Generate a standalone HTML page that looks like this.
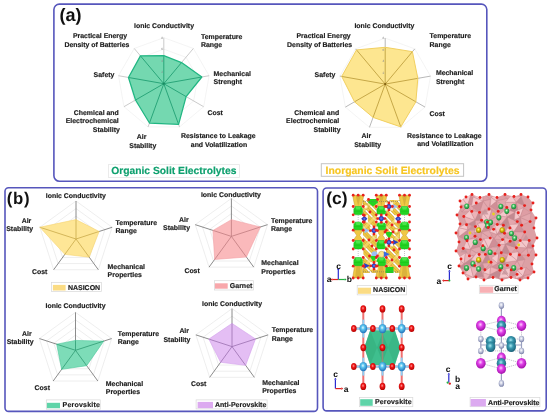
<!DOCTYPE html><html><head><meta charset="utf-8"><style>html,body{margin:0;padding:0;background:#fff;width:550px;height:415px;overflow:hidden}svg{display:block}</style></head><body>
<svg width="550" height="415" viewBox="0 0 550 415" font-family="'Liberation Sans', Arial, sans-serif" text-rendering="geometricPrecision">
<rect width="550" height="415" fill="#fff"/>
<rect x="53.9" y="4.1" width="432.9" height="177.2" rx="5.5" fill="none" stroke="#5656bc" stroke-width="1.6"/>
<rect x="5" y="187.7" width="312.5" height="223.7" rx="3.6" fill="none" stroke="#5656bc" stroke-width="1.6"/>
<rect x="323.1" y="188" width="223.1" height="222.9" rx="3.6" fill="none" stroke="#5656bc" stroke-width="1.6"/>
<text x="59.6" y="21.0" font-size="18" font-weight="bold" fill="#111">(a)</text>
<text x="6.8" y="204.4" font-size="16.8" font-weight="bold" fill="#111" letter-spacing="0.7">(b)</text>
<text x="326.2" y="203.6" font-size="17.4" font-weight="bold" fill="#111">(c)</text>
<polygon points="163.80,72.20 171.19,74.89 175.13,81.70 173.76,89.45 167.73,94.51 159.87,94.51 153.84,89.45 152.47,81.70 156.41,74.89" fill="none" stroke="#ececec" stroke-width="0.6"/>
<polygon points="163.80,60.70 178.58,66.08 186.45,79.71 183.72,95.20 171.67,105.31 155.93,105.31 143.88,95.20 141.15,79.71 149.02,66.08" fill="none" stroke="#ececec" stroke-width="0.6"/>
<polygon points="163.80,49.20 185.98,57.27 197.78,77.71 193.68,100.95 175.60,116.12 152.00,116.12 133.92,100.95 129.82,77.71 141.62,57.27" fill="none" stroke="#ececec" stroke-width="0.6"/>
<polygon points="163.80,37.70 193.37,48.46 209.10,75.71 203.64,106.70 179.53,126.93 148.07,126.93 123.96,106.70 118.50,75.71 134.23,48.46" fill="none" stroke="#ececec" stroke-width="0.6"/>
<line x1="163.80" y1="83.70" x2="163.80" y2="37.70" stroke="#b4b4b4" stroke-width="0.7"/>
<line x1="163.80" y1="83.70" x2="193.37" y2="48.46" stroke="#b4b4b4" stroke-width="0.7"/>
<line x1="163.80" y1="83.70" x2="209.10" y2="75.71" stroke="#b4b4b4" stroke-width="0.7"/>
<line x1="163.80" y1="83.70" x2="203.64" y2="106.70" stroke="#b4b4b4" stroke-width="0.7"/>
<line x1="163.80" y1="83.70" x2="179.53" y2="126.93" stroke="#b4b4b4" stroke-width="0.7"/>
<line x1="163.80" y1="83.70" x2="148.07" y2="126.93" stroke="#b4b4b4" stroke-width="0.7"/>
<line x1="163.80" y1="83.70" x2="123.96" y2="106.70" stroke="#b4b4b4" stroke-width="0.7"/>
<line x1="163.80" y1="83.70" x2="118.50" y2="75.71" stroke="#b4b4b4" stroke-width="0.7"/>
<line x1="163.80" y1="83.70" x2="134.23" y2="48.46" stroke="#b4b4b4" stroke-width="0.7"/>
<polygon points="163.80,55.64 181.54,62.56 201.85,76.99 186.11,96.58 178.59,124.33 149.48,123.04 135.52,100.03 128.47,77.47 140.44,55.86" fill="#74d8b0" fill-opacity="1" stroke="none"/>
<line x1="163.80" y1="83.70" x2="163.80" y2="55.64" stroke="#2aa67a" stroke-width="1.0"/>
<line x1="163.80" y1="83.70" x2="181.54" y2="62.56" stroke="#2aa67a" stroke-width="1.0"/>
<line x1="163.80" y1="83.70" x2="201.85" y2="76.99" stroke="#2aa67a" stroke-width="1.0"/>
<line x1="163.80" y1="83.70" x2="186.11" y2="96.58" stroke="#2aa67a" stroke-width="1.0"/>
<line x1="163.80" y1="83.70" x2="178.59" y2="124.33" stroke="#2aa67a" stroke-width="1.0"/>
<line x1="163.80" y1="83.70" x2="149.48" y2="123.04" stroke="#2aa67a" stroke-width="1.0"/>
<line x1="163.80" y1="83.70" x2="135.52" y2="100.03" stroke="#2aa67a" stroke-width="1.0"/>
<line x1="163.80" y1="83.70" x2="128.47" y2="77.47" stroke="#2aa67a" stroke-width="1.0"/>
<line x1="163.80" y1="83.70" x2="140.44" y2="55.86" stroke="#2aa67a" stroke-width="1.0"/>
<polygon points="163.80,55.64 181.54,62.56 201.85,76.99 186.11,96.58 178.59,124.33 149.48,123.04 135.52,100.03 128.47,77.47 140.44,55.86" fill="none" stroke="#20b682" stroke-width="1.25" stroke-linejoin="round"/>
<circle cx="163.8" cy="83.7" r="1.1" fill="#1a8a60"/>
<polygon points="385.20,72.60 392.59,75.29 396.53,82.10 395.16,89.85 389.13,94.91 381.27,94.91 375.24,89.85 373.87,82.10 377.81,75.29" fill="none" stroke="#ececec" stroke-width="0.6"/>
<polygon points="385.20,61.10 399.98,66.48 407.85,80.11 405.12,95.60 393.07,105.71 377.33,105.71 365.28,95.60 362.55,80.11 370.42,66.48" fill="none" stroke="#ececec" stroke-width="0.6"/>
<polygon points="385.20,49.60 407.38,57.67 419.18,78.11 415.08,101.35 397.00,116.52 373.40,116.52 355.32,101.35 351.22,78.11 363.02,57.67" fill="none" stroke="#ececec" stroke-width="0.6"/>
<polygon points="385.20,38.10 414.77,48.86 430.50,76.11 425.04,107.10 400.93,127.33 369.47,127.33 345.36,107.10 339.90,76.11 355.63,48.86" fill="none" stroke="#ececec" stroke-width="0.6"/>
<line x1="385.20" y1="84.10" x2="385.20" y2="38.10" stroke="#9a9a9a" stroke-width="0.7"/>
<line x1="385.20" y1="84.10" x2="414.77" y2="48.86" stroke="#9a9a9a" stroke-width="0.7"/>
<line x1="385.20" y1="84.10" x2="430.50" y2="76.11" stroke="#9a9a9a" stroke-width="0.7"/>
<line x1="385.20" y1="84.10" x2="425.04" y2="107.10" stroke="#9a9a9a" stroke-width="0.7"/>
<line x1="385.20" y1="84.10" x2="400.93" y2="127.33" stroke="#9a9a9a" stroke-width="0.7"/>
<line x1="385.20" y1="84.10" x2="369.47" y2="127.33" stroke="#9a9a9a" stroke-width="0.7"/>
<line x1="385.20" y1="84.10" x2="345.36" y2="107.10" stroke="#9a9a9a" stroke-width="0.7"/>
<line x1="385.20" y1="84.10" x2="339.90" y2="76.11" stroke="#9a9a9a" stroke-width="0.7"/>
<line x1="385.20" y1="84.10" x2="355.63" y2="48.86" stroke="#9a9a9a" stroke-width="0.7"/>
<polygon points="385.20,47.30 412.40,51.68 417.82,78.35 415.87,101.81 400.78,126.89 373.09,117.38 354.53,101.81 341.71,76.43 356.52,49.92" fill="#fde690" fill-opacity="1" stroke="none"/>
<line x1="385.20" y1="84.10" x2="385.20" y2="47.30" stroke="#bfa040" stroke-width="0.9"/>
<line x1="385.20" y1="84.10" x2="412.40" y2="51.68" stroke="#bfa040" stroke-width="0.9"/>
<line x1="385.20" y1="84.10" x2="417.82" y2="78.35" stroke="#bfa040" stroke-width="0.9"/>
<line x1="385.20" y1="84.10" x2="415.87" y2="101.81" stroke="#bfa040" stroke-width="0.9"/>
<line x1="385.20" y1="84.10" x2="400.78" y2="126.89" stroke="#bfa040" stroke-width="0.9"/>
<line x1="385.20" y1="84.10" x2="373.09" y2="117.38" stroke="#bfa040" stroke-width="0.9"/>
<line x1="385.20" y1="84.10" x2="354.53" y2="101.81" stroke="#bfa040" stroke-width="0.9"/>
<line x1="385.20" y1="84.10" x2="341.71" y2="76.43" stroke="#bfa040" stroke-width="0.9"/>
<line x1="385.20" y1="84.10" x2="356.52" y2="49.92" stroke="#bfa040" stroke-width="0.9"/>
<polygon points="385.20,47.30 412.40,51.68 417.82,78.35 415.87,101.81 400.78,126.89 373.09,117.38 354.53,101.81 341.71,76.43 356.52,49.92" fill="none" stroke="#f2d060" stroke-width="1.0" stroke-linejoin="round"/>
<circle cx="385.2" cy="84.1" r="1.1" fill="#806010"/>
<text x="163.0" y="73.4" font-size="3.2" fill="#8a8a8a" text-anchor="end">2</text>
<text x="163.0" y="61.9" font-size="3.2" fill="#8a8a8a" text-anchor="end">4</text>
<text x="163.0" y="50.4" font-size="3.2" fill="#8a8a8a" text-anchor="end">6</text>
<text x="163.0" y="38.9" font-size="3.2" fill="#8a8a8a" text-anchor="end">8</text>
<text x="384.4" y="73.8" font-size="3.2" fill="#8a8a8a" text-anchor="end">2</text>
<text x="384.4" y="62.3" font-size="3.2" fill="#8a8a8a" text-anchor="end">4</text>
<text x="384.4" y="50.8" font-size="3.2" fill="#8a8a8a" text-anchor="end">6</text>
<text x="384.4" y="39.3" font-size="3.2" fill="#8a8a8a" text-anchor="end">8</text>
<text x="164.00" y="27.69" text-anchor="middle" font-size="6.93" font-weight="bold" fill="#1a1a1a" stroke="#1a1a1a" stroke-width="0.16" >Ionic Conductivity</text>
<text x="100.00" y="38.49" text-anchor="middle" font-size="6.93" font-weight="bold" fill="#1a1a1a" stroke="#1a1a1a" stroke-width="0.16" >Practical Energy</text>
<text x="96.90" y="46.99" text-anchor="middle" font-size="6.93" font-weight="bold" fill="#1a1a1a" stroke="#1a1a1a" stroke-width="0.16" >Density of Batteries</text>
<text x="201.00" y="38.99" text-anchor="start" font-size="6.93" font-weight="bold" fill="#1a1a1a" stroke="#1a1a1a" stroke-width="0.16" >Temperature</text>
<text x="201.00" y="47.49" text-anchor="start" font-size="6.93" font-weight="bold" fill="#1a1a1a" stroke="#1a1a1a" stroke-width="0.16" >Range</text>
<text x="213.60" y="75.79" text-anchor="start" font-size="6.93" font-weight="bold" fill="#1a1a1a" stroke="#1a1a1a" stroke-width="0.16" >Mechanical</text>
<text x="213.60" y="84.09" text-anchor="start" font-size="6.93" font-weight="bold" fill="#1a1a1a" stroke="#1a1a1a" stroke-width="0.16" >Strenght</text>
<text x="207.50" y="115.19" text-anchor="start" font-size="6.93" font-weight="bold" fill="#1a1a1a" stroke="#1a1a1a" stroke-width="0.16" >Cost</text>
<text x="218.30" y="137.99" text-anchor="middle" font-size="6.93" font-weight="bold" fill="#1a1a1a" stroke="#1a1a1a" stroke-width="0.16" >Resistance to Leakage</text>
<text x="219.00" y="146.59" text-anchor="middle" font-size="6.93" font-weight="bold" fill="#1a1a1a" stroke="#1a1a1a" stroke-width="0.16" >and Volatilization</text>
<text x="141.60" y="139.09" text-anchor="middle" font-size="6.93" font-weight="bold" fill="#1a1a1a" stroke="#1a1a1a" stroke-width="0.16" >Air</text>
<text x="142.80" y="147.59" text-anchor="middle" font-size="6.93" font-weight="bold" fill="#1a1a1a" stroke="#1a1a1a" stroke-width="0.16" >Stability</text>
<text x="118.80" y="114.79" text-anchor="end" font-size="6.93" font-weight="bold" fill="#1a1a1a" stroke="#1a1a1a" stroke-width="0.16" >Chemical and</text>
<text x="118.80" y="123.49" text-anchor="end" font-size="6.93" font-weight="bold" fill="#1a1a1a" stroke="#1a1a1a" stroke-width="0.16" >Electrochemical</text>
<text x="119.80" y="132.39" text-anchor="end" font-size="6.93" font-weight="bold" fill="#1a1a1a" stroke="#1a1a1a" stroke-width="0.16" >Stability</text>
<text x="114.40" y="76.99" text-anchor="end" font-size="6.93" font-weight="bold" fill="#1a1a1a" stroke="#1a1a1a" stroke-width="0.16" >Safety</text>
<text x="384.40" y="27.69" text-anchor="middle" font-size="6.93" font-weight="bold" fill="#1a1a1a" stroke="#1a1a1a" stroke-width="0.16" >Ionic Conductivity</text>
<text x="323.60" y="38.19" text-anchor="middle" font-size="6.93" font-weight="bold" fill="#1a1a1a" stroke="#1a1a1a" stroke-width="0.16" >Practical Energy</text>
<text x="319.60" y="46.59" text-anchor="middle" font-size="6.93" font-weight="bold" fill="#1a1a1a" stroke="#1a1a1a" stroke-width="0.16" >Density of Batteries</text>
<text x="429.60" y="38.39" text-anchor="start" font-size="6.93" font-weight="bold" fill="#1a1a1a" stroke="#1a1a1a" stroke-width="0.16" >Temperature</text>
<text x="429.60" y="46.89" text-anchor="start" font-size="6.93" font-weight="bold" fill="#1a1a1a" stroke="#1a1a1a" stroke-width="0.16" >Range</text>
<text x="435.90" y="75.39" text-anchor="start" font-size="6.93" font-weight="bold" fill="#1a1a1a" stroke="#1a1a1a" stroke-width="0.16" >Mechanical</text>
<text x="435.90" y="83.89" text-anchor="start" font-size="6.93" font-weight="bold" fill="#1a1a1a" stroke="#1a1a1a" stroke-width="0.16" >Strenght</text>
<text x="429.50" y="115.99" text-anchor="start" font-size="6.93" font-weight="bold" fill="#1a1a1a" stroke="#1a1a1a" stroke-width="0.16" >Cost</text>
<text x="444.30" y="137.59" text-anchor="middle" font-size="6.93" font-weight="bold" fill="#1a1a1a" stroke="#1a1a1a" stroke-width="0.16" >Resistance to Leakage</text>
<text x="445.40" y="146.39" text-anchor="middle" font-size="6.93" font-weight="bold" fill="#1a1a1a" stroke="#1a1a1a" stroke-width="0.16" >and Volatilization</text>
<text x="366.40" y="138.49" text-anchor="middle" font-size="6.93" font-weight="bold" fill="#1a1a1a" stroke="#1a1a1a" stroke-width="0.16" >Air</text>
<text x="367.70" y="146.89" text-anchor="middle" font-size="6.93" font-weight="bold" fill="#1a1a1a" stroke="#1a1a1a" stroke-width="0.16" >Stability</text>
<text x="339.20" y="114.89" text-anchor="end" font-size="6.93" font-weight="bold" fill="#1a1a1a" stroke="#1a1a1a" stroke-width="0.16" >Chemical and</text>
<text x="339.20" y="123.29" text-anchor="end" font-size="6.93" font-weight="bold" fill="#1a1a1a" stroke="#1a1a1a" stroke-width="0.16" >Electrochemical</text>
<text x="340.50" y="132.49" text-anchor="end" font-size="6.93" font-weight="bold" fill="#1a1a1a" stroke="#1a1a1a" stroke-width="0.16" >Stability</text>
<text x="335.40" y="76.59" text-anchor="end" font-size="6.93" font-weight="bold" fill="#1a1a1a" stroke="#1a1a1a" stroke-width="0.16" >Safety</text>
<rect x="108.5" y="164.6" width="131" height="12.8" fill="#fff" stroke="#e6e6e6" stroke-width="0.8"/>
<text x="173.80" y="174.22" text-anchor="middle" font-size="10.3" font-weight="bold" fill="#0ea06e" stroke="#0ea06e" stroke-width="0.16" >Organic Solit Electrolytes</text>
<rect x="321.3" y="163.7" width="142.3" height="12.6" fill="#fff" stroke="#c4c4c4" stroke-width="1"/>
<text x="392.60" y="173.79" text-anchor="middle" font-size="10.4" font-weight="bold" fill="#f6c520" stroke="#f6c520" stroke-width="0.16" >Inorganic Solit Electrolytes</text>
<polygon points="76.00,231.40 83.23,236.65 80.47,245.15 71.53,245.15 68.77,236.65" fill="none" stroke="#e2e2e2" stroke-width="0.6"/>
<polygon points="76.00,223.80 90.46,234.30 84.93,251.30 67.07,251.30 61.54,234.30" fill="none" stroke="#e2e2e2" stroke-width="0.6"/>
<polygon points="76.00,216.20 97.68,231.95 89.40,257.45 62.60,257.45 54.32,231.95" fill="none" stroke="#e2e2e2" stroke-width="0.6"/>
<polygon points="76.00,208.60 104.91,229.61 93.87,263.59 58.13,263.59 47.09,229.61" fill="none" stroke="#e2e2e2" stroke-width="0.6"/>
<polygon points="76.00,201.00 112.14,227.26 98.34,269.74 53.66,269.74 39.86,227.26" fill="none" stroke="#e2e2e2" stroke-width="0.6"/>
<line x1="76.00" y1="239.00" x2="76.00" y2="201.00" stroke="#6e6e6e" stroke-width="0.8"/>
<line x1="76.00" y1="239.00" x2="112.14" y2="227.26" stroke="#6e6e6e" stroke-width="0.8"/>
<line x1="76.00" y1="239.00" x2="98.34" y2="269.74" stroke="#6e6e6e" stroke-width="0.8"/>
<line x1="76.00" y1="239.00" x2="53.66" y2="269.74" stroke="#6e6e6e" stroke-width="0.8"/>
<line x1="76.00" y1="239.00" x2="39.86" y2="227.26" stroke="#6e6e6e" stroke-width="0.8"/>
<polygon points="76.00,219.62 99.13,231.48 89.18,257.14 64.83,254.37 39.86,227.26" fill="#fee696" fill-opacity="1" stroke="none"/>
<line x1="76.00" y1="239.00" x2="76.00" y2="219.62" stroke="#c9a94a" stroke-width="0.8"/>
<line x1="76.00" y1="239.00" x2="99.13" y2="231.48" stroke="#c9a94a" stroke-width="0.8"/>
<line x1="76.00" y1="239.00" x2="89.18" y2="257.14" stroke="#c9a94a" stroke-width="0.8"/>
<line x1="76.00" y1="239.00" x2="64.83" y2="254.37" stroke="#c9a94a" stroke-width="0.8"/>
<line x1="76.00" y1="239.00" x2="39.86" y2="227.26" stroke="#c9a94a" stroke-width="0.8"/>
<polygon points="76.00,219.62 99.13,231.48 89.18,257.14 64.83,254.37 39.86,227.26" fill="none" stroke="#f6d470" stroke-width="0.6" stroke-linejoin="round"/>
<polygon points="231.40,228.80 238.63,234.05 235.87,242.55 226.93,242.55 224.17,234.05" fill="none" stroke="#e2e2e2" stroke-width="0.6"/>
<polygon points="231.40,221.20 245.86,231.70 240.33,248.70 222.47,248.70 216.94,231.70" fill="none" stroke="#e2e2e2" stroke-width="0.6"/>
<polygon points="231.40,213.60 253.08,229.35 244.80,254.85 218.00,254.85 209.72,229.35" fill="none" stroke="#e2e2e2" stroke-width="0.6"/>
<polygon points="231.40,206.00 260.31,227.01 249.27,260.99 213.53,260.99 202.49,227.01" fill="none" stroke="#e2e2e2" stroke-width="0.6"/>
<polygon points="231.40,198.40 267.54,224.66 253.74,267.14 209.06,267.14 195.26,224.66" fill="none" stroke="#e2e2e2" stroke-width="0.6"/>
<line x1="231.40" y1="236.40" x2="231.40" y2="198.40" stroke="#6e6e6e" stroke-width="0.8"/>
<line x1="231.40" y1="236.40" x2="267.54" y2="224.66" stroke="#6e6e6e" stroke-width="0.8"/>
<line x1="231.40" y1="236.40" x2="253.74" y2="267.14" stroke="#6e6e6e" stroke-width="0.8"/>
<line x1="231.40" y1="236.40" x2="209.06" y2="267.14" stroke="#6e6e6e" stroke-width="0.8"/>
<line x1="231.40" y1="236.40" x2="195.26" y2="224.66" stroke="#6e6e6e" stroke-width="0.8"/>
<polygon points="231.40,219.68 260.31,227.01 246.37,257.00 214.65,259.46 212.97,230.41" fill="#fab9bb" fill-opacity="1" stroke="none"/>
<line x1="231.40" y1="236.40" x2="231.40" y2="219.68" stroke="#c07c80" stroke-width="0.8"/>
<line x1="231.40" y1="236.40" x2="260.31" y2="227.01" stroke="#c07c80" stroke-width="0.8"/>
<line x1="231.40" y1="236.40" x2="246.37" y2="257.00" stroke="#c07c80" stroke-width="0.8"/>
<line x1="231.40" y1="236.40" x2="214.65" y2="259.46" stroke="#c07c80" stroke-width="0.8"/>
<line x1="231.40" y1="236.40" x2="212.97" y2="230.41" stroke="#c07c80" stroke-width="0.8"/>
<polygon points="231.40,219.68 260.31,227.01 246.37,257.00 214.65,259.46 212.97,230.41" fill="none" stroke="#f3a0a4" stroke-width="0.6" stroke-linejoin="round"/>
<polygon points="75.50,342.70 82.73,347.95 79.97,356.45 71.03,356.45 68.27,347.95" fill="none" stroke="#e2e2e2" stroke-width="0.6"/>
<polygon points="75.50,335.10 89.96,345.60 84.43,362.60 66.57,362.60 61.04,345.60" fill="none" stroke="#e2e2e2" stroke-width="0.6"/>
<polygon points="75.50,327.50 97.18,343.25 88.90,368.75 62.10,368.75 53.82,343.25" fill="none" stroke="#e2e2e2" stroke-width="0.6"/>
<polygon points="75.50,319.90 104.41,340.91 93.37,374.89 57.63,374.89 46.59,340.91" fill="none" stroke="#e2e2e2" stroke-width="0.6"/>
<polygon points="75.50,312.30 111.64,338.56 97.84,381.04 53.16,381.04 39.36,338.56" fill="none" stroke="#e2e2e2" stroke-width="0.6"/>
<line x1="75.50" y1="350.30" x2="75.50" y2="312.30" stroke="#6e6e6e" stroke-width="0.8"/>
<line x1="75.50" y1="350.30" x2="111.64" y2="338.56" stroke="#6e6e6e" stroke-width="0.8"/>
<line x1="75.50" y1="350.30" x2="97.84" y2="381.04" stroke="#6e6e6e" stroke-width="0.8"/>
<line x1="75.50" y1="350.30" x2="53.16" y2="381.04" stroke="#6e6e6e" stroke-width="0.8"/>
<line x1="75.50" y1="350.30" x2="39.36" y2="338.56" stroke="#6e6e6e" stroke-width="0.8"/>
<polygon points="75.50,340.42 103.69,341.14 86.67,365.67 61.65,369.36 56.71,344.19" fill="#7ddcb8" fill-opacity="1" stroke="none"/>
<line x1="75.50" y1="350.30" x2="75.50" y2="340.42" stroke="#2f9a72" stroke-width="0.8"/>
<line x1="75.50" y1="350.30" x2="103.69" y2="341.14" stroke="#2f9a72" stroke-width="0.8"/>
<line x1="75.50" y1="350.30" x2="86.67" y2="365.67" stroke="#2f9a72" stroke-width="0.8"/>
<line x1="75.50" y1="350.30" x2="61.65" y2="369.36" stroke="#2f9a72" stroke-width="0.8"/>
<line x1="75.50" y1="350.30" x2="56.71" y2="344.19" stroke="#2f9a72" stroke-width="0.8"/>
<polygon points="75.50,340.42 103.69,341.14 86.67,365.67 61.65,369.36 56.71,344.19" fill="none" stroke="#4cc89a" stroke-width="0.6" stroke-linejoin="round"/>
<polygon points="232.00,339.00 239.23,344.25 236.47,352.75 227.53,352.75 224.77,344.25" fill="none" stroke="#e2e2e2" stroke-width="0.6"/>
<polygon points="232.00,331.40 246.46,341.90 240.93,358.90 223.07,358.90 217.54,341.90" fill="none" stroke="#e2e2e2" stroke-width="0.6"/>
<polygon points="232.00,323.80 253.68,339.55 245.40,365.05 218.60,365.05 210.32,339.55" fill="none" stroke="#e2e2e2" stroke-width="0.6"/>
<polygon points="232.00,316.20 260.91,337.21 249.87,371.19 214.13,371.19 203.09,337.21" fill="none" stroke="#e2e2e2" stroke-width="0.6"/>
<polygon points="232.00,308.60 268.14,334.86 254.34,377.34 209.66,377.34 195.86,334.86" fill="none" stroke="#e2e2e2" stroke-width="0.6"/>
<line x1="232.00" y1="346.60" x2="232.00" y2="308.60" stroke="#6e6e6e" stroke-width="0.8"/>
<line x1="232.00" y1="346.60" x2="268.14" y2="334.86" stroke="#6e6e6e" stroke-width="0.8"/>
<line x1="232.00" y1="346.60" x2="254.34" y2="377.34" stroke="#6e6e6e" stroke-width="0.8"/>
<line x1="232.00" y1="346.60" x2="209.66" y2="377.34" stroke="#6e6e6e" stroke-width="0.8"/>
<line x1="232.00" y1="346.60" x2="195.86" y2="334.86" stroke="#6e6e6e" stroke-width="0.8"/>
<polygon points="232.00,323.42 255.49,338.97 245.62,365.35 220.61,362.28 208.87,339.08" fill="#e4bef4" fill-opacity="1" stroke="none"/>
<line x1="232.00" y1="346.60" x2="232.00" y2="323.42" stroke="#9a70b0" stroke-width="0.8"/>
<line x1="232.00" y1="346.60" x2="255.49" y2="338.97" stroke="#9a70b0" stroke-width="0.8"/>
<line x1="232.00" y1="346.60" x2="245.62" y2="365.35" stroke="#9a70b0" stroke-width="0.8"/>
<line x1="232.00" y1="346.60" x2="220.61" y2="362.28" stroke="#9a70b0" stroke-width="0.8"/>
<line x1="232.00" y1="346.60" x2="208.87" y2="339.08" stroke="#9a70b0" stroke-width="0.8"/>
<polygon points="232.00,323.42 255.49,338.97 245.62,365.35 220.61,362.28 208.87,339.08" fill="none" stroke="#d4a0ec" stroke-width="0.6" stroke-linejoin="round"/>
<text x="75.80" y="198.09" text-anchor="middle" font-size="6.93" font-weight="bold" fill="#1a1a1a" stroke="#1a1a1a" stroke-width="0.16" >Ionic Conductivity</text>
<text x="31.30" y="222.59" text-anchor="end" font-size="6.93" font-weight="bold" fill="#1a1a1a" stroke="#1a1a1a" stroke-width="0.16" >Air</text>
<text x="33.20" y="230.59" text-anchor="end" font-size="6.93" font-weight="bold" fill="#1a1a1a" stroke="#1a1a1a" stroke-width="0.16" >Stability</text>
<text x="115.60" y="225.09" text-anchor="start" font-size="6.93" font-weight="bold" fill="#1a1a1a" stroke="#1a1a1a" stroke-width="0.16" >Temperature</text>
<text x="115.60" y="233.39" text-anchor="start" font-size="6.93" font-weight="bold" fill="#1a1a1a" stroke="#1a1a1a" stroke-width="0.16" >Range</text>
<text x="107.60" y="268.89" text-anchor="start" font-size="6.93" font-weight="bold" fill="#1a1a1a" stroke="#1a1a1a" stroke-width="0.16" >Mechanical</text>
<text x="107.60" y="277.19" text-anchor="start" font-size="6.93" font-weight="bold" fill="#1a1a1a" stroke="#1a1a1a" stroke-width="0.16" >Properties</text>
<text x="32.00" y="273.99" text-anchor="start" font-size="6.93" font-weight="bold" fill="#1a1a1a" stroke="#1a1a1a" stroke-width="0.16" >Cost</text>
<text x="230.90" y="196.59" text-anchor="middle" font-size="6.93" font-weight="bold" fill="#1a1a1a" stroke="#1a1a1a" stroke-width="0.16" >Ionic Conductivity</text>
<text x="188.70" y="222.49" text-anchor="end" font-size="6.93" font-weight="bold" fill="#1a1a1a" stroke="#1a1a1a" stroke-width="0.16" >Air</text>
<text x="190.00" y="230.29" text-anchor="end" font-size="6.93" font-weight="bold" fill="#1a1a1a" stroke="#1a1a1a" stroke-width="0.16" >Stability</text>
<text x="271.00" y="223.19" text-anchor="start" font-size="6.93" font-weight="bold" fill="#1a1a1a" stroke="#1a1a1a" stroke-width="0.16" >Temperature</text>
<text x="271.00" y="231.49" text-anchor="start" font-size="6.93" font-weight="bold" fill="#1a1a1a" stroke="#1a1a1a" stroke-width="0.16" >Range</text>
<text x="261.30" y="265.29" text-anchor="start" font-size="6.93" font-weight="bold" fill="#1a1a1a" stroke="#1a1a1a" stroke-width="0.16" >Mechanical</text>
<text x="261.30" y="273.59" text-anchor="start" font-size="6.93" font-weight="bold" fill="#1a1a1a" stroke="#1a1a1a" stroke-width="0.16" >Properties</text>
<text x="184.40" y="272.59" text-anchor="start" font-size="6.93" font-weight="bold" fill="#1a1a1a" stroke="#1a1a1a" stroke-width="0.16" >Cost</text>
<text x="75.50" y="307.99" text-anchor="middle" font-size="6.93" font-weight="bold" fill="#1a1a1a" stroke="#1a1a1a" stroke-width="0.16" >Ionic Conductivity</text>
<text x="31.60" y="335.99" text-anchor="end" font-size="6.93" font-weight="bold" fill="#1a1a1a" stroke="#1a1a1a" stroke-width="0.16" >Air</text>
<text x="33.60" y="344.39" text-anchor="end" font-size="6.93" font-weight="bold" fill="#1a1a1a" stroke="#1a1a1a" stroke-width="0.16" >Stability</text>
<text x="117.70" y="335.59" text-anchor="start" font-size="6.93" font-weight="bold" fill="#1a1a1a" stroke="#1a1a1a" stroke-width="0.16" >Temperature</text>
<text x="117.70" y="343.59" text-anchor="start" font-size="6.93" font-weight="bold" fill="#1a1a1a" stroke="#1a1a1a" stroke-width="0.16" >Range</text>
<text x="105.80" y="386.29" text-anchor="start" font-size="6.93" font-weight="bold" fill="#1a1a1a" stroke="#1a1a1a" stroke-width="0.16" >Mechanical</text>
<text x="105.80" y="394.49" text-anchor="start" font-size="6.93" font-weight="bold" fill="#1a1a1a" stroke="#1a1a1a" stroke-width="0.16" >Properties</text>
<text x="34.60" y="389.79" text-anchor="start" font-size="6.93" font-weight="bold" fill="#1a1a1a" stroke="#1a1a1a" stroke-width="0.16" >Cost</text>
<text x="232.00" y="305.99" text-anchor="middle" font-size="6.93" font-weight="bold" fill="#1a1a1a" stroke="#1a1a1a" stroke-width="0.16" >Ionic Conductivity</text>
<text x="189.00" y="333.39" text-anchor="end" font-size="6.93" font-weight="bold" fill="#1a1a1a" stroke="#1a1a1a" stroke-width="0.16" >Air</text>
<text x="190.40" y="341.59" text-anchor="end" font-size="6.93" font-weight="bold" fill="#1a1a1a" stroke="#1a1a1a" stroke-width="0.16" >Stability</text>
<text x="271.80" y="332.29" text-anchor="start" font-size="6.93" font-weight="bold" fill="#1a1a1a" stroke="#1a1a1a" stroke-width="0.16" >Temperature</text>
<text x="271.80" y="340.79" text-anchor="start" font-size="6.93" font-weight="bold" fill="#1a1a1a" stroke="#1a1a1a" stroke-width="0.16" >Range</text>
<text x="262.20" y="385.09" text-anchor="start" font-size="6.93" font-weight="bold" fill="#1a1a1a" stroke="#1a1a1a" stroke-width="0.16" >Mechanical</text>
<text x="262.20" y="393.39" text-anchor="start" font-size="6.93" font-weight="bold" fill="#1a1a1a" stroke="#1a1a1a" stroke-width="0.16" >Properties</text>
<text x="191.00" y="386.19" text-anchor="start" font-size="6.93" font-weight="bold" fill="#1a1a1a" stroke="#1a1a1a" stroke-width="0.16" >Cost</text>
<rect x="51.6" y="282.4" width="50.00" height="9.10" fill="#fff" stroke="#d8d8d8" stroke-width="0.7"/>
<rect x="52.9" y="284.9" width="12.70" height="5.60" fill="#fbdc84"/>
<text x="67.90" y="289.64" text-anchor="start" font-size="7" font-weight="bold" fill="#1a1a1a" stroke="#1a1a1a" stroke-width="0.16" >NASICON</text>
<rect x="214.5" y="280.7" width="39.10" height="9.30" fill="#fff" stroke="#d8d8d8" stroke-width="0.7"/>
<rect x="214.9" y="283.3" width="12.80" height="5.40" fill="#f8a7ab"/>
<text x="229.80" y="288.04" text-anchor="start" font-size="7" font-weight="bold" fill="#1a1a1a" stroke="#1a1a1a" stroke-width="0.16" >Garnet</text>
<rect x="46.3" y="399.9" width="53.90" height="9.30" fill="#fff" stroke="#d8d8d8" stroke-width="0.7"/>
<rect x="46.9" y="402.8" width="13.10" height="5.40" fill="#5fd4a8"/>
<text x="62.60" y="407.24" text-anchor="start" font-size="7" font-weight="bold" fill="#1a1a1a" stroke="#1a1a1a" stroke-width="0.16" letter-spacing="0.2">Perovskite</text>
<rect x="196.1" y="399.9" width="71.00" height="9.00" fill="#fff" stroke="#d8d8d8" stroke-width="0.7"/>
<rect x="197.6" y="401.9" width="15.40" height="6.30" fill="#dcaaf0"/>
<text x="215.00" y="407.24" text-anchor="start" font-size="7" font-weight="bold" fill="#1a1a1a" stroke="#1a1a1a" stroke-width="0.16" >Anti-Perovskite</text>
<rect x="357.2" y="285.5" width="49.20" height="9.40" fill="#fff" stroke="#d8d8d8" stroke-width="0.7"/>
<rect x="358.0" y="287.7" width="13.00" height="6.10" fill="#fbdc84"/>
<text x="373.10" y="292.44" text-anchor="start" font-size="7" font-weight="bold" fill="#1a1a1a" stroke="#1a1a1a" stroke-width="0.16" >NASICON</text>
<rect x="479.3" y="285.3" width="38.80" height="8.30" fill="#fff" stroke="#d8d8d8" stroke-width="0.7"/>
<rect x="479.9" y="286.6" width="13.30" height="6.20" fill="#f8b0b4"/>
<text x="494.30" y="291.44" text-anchor="start" font-size="7" font-weight="bold" fill="#1a1a1a" stroke="#1a1a1a" stroke-width="0.16" >Garnet</text>
<rect x="359.4" y="397.6" width="53.40" height="9.10" fill="#fff" stroke="#d8d8d8" stroke-width="0.7"/>
<rect x="360.2" y="399.2" width="12.50" height="6.60" fill="#5fd4a8"/>
<text x="374.90" y="404.24" text-anchor="start" font-size="7" font-weight="bold" fill="#1a1a1a" stroke="#1a1a1a" stroke-width="0.16" letter-spacing="0.15">Perovskite</text>
<rect x="470.1" y="397.4" width="69.80" height="9.30" fill="#fff" stroke="#d8d8d8" stroke-width="0.7"/>
<rect x="470.6" y="399.0" width="15.30" height="7.40" fill="#dcaaf0"/>
<text x="488.10" y="404.64" text-anchor="start" font-size="7" font-weight="bold" fill="#1a1a1a" stroke="#1a1a1a" stroke-width="0.16" >Anti-Perovskite</text>
<defs><radialGradient id="gBlue" cx="0.45" cy="0.4" r="0.6"><stop offset="0" stop-color="#e8fbff"/><stop offset="0.35" stop-color="#5cc6f0"/><stop offset="1" stop-color="#1f6fb8"/></radialGradient><radialGradient id="gRed" cx="0.45" cy="0.4" r="0.6"><stop offset="0" stop-color="#ff9a9a"/><stop offset="0.4" stop-color="#f01818"/><stop offset="1" stop-color="#b00000"/></radialGradient><radialGradient id="gMag" cx="0.45" cy="0.4" r="0.6"><stop offset="0" stop-color="#ffd0ff"/><stop offset="0.4" stop-color="#e040e8"/><stop offset="1" stop-color="#a010a8"/></radialGradient><radialGradient id="gTeal" cx="0.45" cy="0.4" r="0.6"><stop offset="0" stop-color="#a8e8f0"/><stop offset="0.4" stop-color="#3a9ab0"/><stop offset="1" stop-color="#1a6078"/></radialGradient><radialGradient id="gLi" cx="0.45" cy="0.4" r="0.6"><stop offset="0" stop-color="#ffffff"/><stop offset="0.45" stop-color="#c8cce0"/><stop offset="1" stop-color="#7880a8"/></radialGradient><radialGradient id="gGrn" cx="0.45" cy="0.4" r="0.6"><stop offset="0" stop-color="#e0ffe0"/><stop offset="0.45" stop-color="#40c060"/><stop offset="1" stop-color="#187830"/></radialGradient><radialGradient id="gYel" cx="0.45" cy="0.4" r="0.6"><stop offset="0" stop-color="#fff8a0"/><stop offset="0.45" stop-color="#d8c000"/><stop offset="1" stop-color="#907000"/></radialGradient></defs>
<clipPath id="nc0"><rect x="362.9" y="200" width="13.700000000000045" height="73"/></clipPath>
<g clip-path="url(#nc0)">
<polygon points="362.90,152.00 376.60,166.00 376.60,172.50 362.90,158.50" fill="#f0c844" stroke="#c09a30" stroke-width="0.6"/>
<line x1="362.9" y1="155.2" x2="376.6" y2="169.2" stroke="#c09a30" stroke-width="0.7" opacity="0.7"/>
<polygon points="362.90,161.50 376.60,175.50 376.60,182.00 362.90,168.00" fill="#f0c844" stroke="#c09a30" stroke-width="0.6"/>
<line x1="362.9" y1="164.8" x2="376.6" y2="178.8" stroke="#c09a30" stroke-width="0.7" opacity="0.7"/>
<polygon points="362.90,171.00 376.60,185.00 376.60,191.50 362.90,177.50" fill="#f0c844" stroke="#c09a30" stroke-width="0.6"/>
<line x1="362.9" y1="174.2" x2="376.6" y2="188.2" stroke="#c09a30" stroke-width="0.7" opacity="0.7"/>
<polygon points="362.90,180.50 376.60,194.50 376.60,201.00 362.90,187.00" fill="#f0c844" stroke="#c09a30" stroke-width="0.6"/>
<line x1="362.9" y1="183.8" x2="376.6" y2="197.8" stroke="#c09a30" stroke-width="0.7" opacity="0.7"/>
<polygon points="362.90,190.00 376.60,204.00 376.60,210.50 362.90,196.50" fill="#f0c844" stroke="#c09a30" stroke-width="0.6"/>
<line x1="362.9" y1="193.2" x2="376.6" y2="207.2" stroke="#c09a30" stroke-width="0.7" opacity="0.7"/>
<polygon points="362.90,199.50 376.60,213.50 376.60,220.00 362.90,206.00" fill="#f0c844" stroke="#c09a30" stroke-width="0.6"/>
<line x1="362.9" y1="202.8" x2="376.6" y2="216.8" stroke="#c09a30" stroke-width="0.7" opacity="0.7"/>
<polygon points="362.90,209.00 376.60,223.00 376.60,229.50 362.90,215.50" fill="#f0c844" stroke="#c09a30" stroke-width="0.6"/>
<line x1="362.9" y1="212.2" x2="376.6" y2="226.2" stroke="#c09a30" stroke-width="0.7" opacity="0.7"/>
<polygon points="362.90,218.50 376.60,232.50 376.60,239.00 362.90,225.00" fill="#f0c844" stroke="#c09a30" stroke-width="0.6"/>
<line x1="362.9" y1="221.8" x2="376.6" y2="235.8" stroke="#c09a30" stroke-width="0.7" opacity="0.7"/>
<polygon points="362.90,228.00 376.60,242.00 376.60,248.50 362.90,234.50" fill="#f0c844" stroke="#c09a30" stroke-width="0.6"/>
<line x1="362.9" y1="231.2" x2="376.6" y2="245.2" stroke="#c09a30" stroke-width="0.7" opacity="0.7"/>
<polygon points="362.90,237.50 376.60,251.50 376.60,258.00 362.90,244.00" fill="#f0c844" stroke="#c09a30" stroke-width="0.6"/>
<line x1="362.9" y1="240.8" x2="376.6" y2="254.8" stroke="#c09a30" stroke-width="0.7" opacity="0.7"/>
<polygon points="362.90,247.00 376.60,261.00 376.60,267.50 362.90,253.50" fill="#f0c844" stroke="#c09a30" stroke-width="0.6"/>
<line x1="362.9" y1="250.2" x2="376.6" y2="264.2" stroke="#c09a30" stroke-width="0.7" opacity="0.7"/>
<polygon points="362.90,256.50 376.60,270.50 376.60,277.00 362.90,263.00" fill="#f0c844" stroke="#c09a30" stroke-width="0.6"/>
<line x1="362.9" y1="259.8" x2="376.6" y2="273.8" stroke="#c09a30" stroke-width="0.7" opacity="0.7"/>
<polygon points="362.90,266.00 376.60,280.00 376.60,286.50 362.90,272.50" fill="#f0c844" stroke="#c09a30" stroke-width="0.6"/>
<line x1="362.9" y1="269.2" x2="376.6" y2="283.2" stroke="#c09a30" stroke-width="0.7" opacity="0.7"/>
<polygon points="362.90,275.50 376.60,289.50 376.60,296.00 362.90,282.00" fill="#f0c844" stroke="#c09a30" stroke-width="0.6"/>
<line x1="362.9" y1="278.8" x2="376.6" y2="292.8" stroke="#c09a30" stroke-width="0.7" opacity="0.7"/>
<polygon points="362.90,285.00 376.60,299.00 376.60,305.50 362.90,291.50" fill="#f0c844" stroke="#c09a30" stroke-width="0.6"/>
<line x1="362.9" y1="288.2" x2="376.6" y2="302.2" stroke="#c09a30" stroke-width="0.7" opacity="0.7"/>
<polygon points="362.90,294.50 376.60,308.50 376.60,315.00 362.90,301.00" fill="#f0c844" stroke="#c09a30" stroke-width="0.6"/>
<line x1="362.9" y1="297.8" x2="376.6" y2="311.8" stroke="#c09a30" stroke-width="0.7" opacity="0.7"/>
<polygon points="362.90,132.00 376.60,118.00 376.60,123.00 362.90,137.00" fill="#f6d868" stroke="#c09a30" stroke-width="0.5" opacity="0.75"/>
<polygon points="362.90,151.00 376.60,137.00 376.60,142.00 362.90,156.00" fill="#f6d868" stroke="#c09a30" stroke-width="0.5" opacity="0.75"/>
<polygon points="362.90,170.00 376.60,156.00 376.60,161.00 362.90,175.00" fill="#f6d868" stroke="#c09a30" stroke-width="0.5" opacity="0.75"/>
<polygon points="362.90,189.00 376.60,175.00 376.60,180.00 362.90,194.00" fill="#f6d868" stroke="#c09a30" stroke-width="0.5" opacity="0.75"/>
<polygon points="362.90,208.00 376.60,194.00 376.60,199.00 362.90,213.00" fill="#f6d868" stroke="#c09a30" stroke-width="0.5" opacity="0.75"/>
<polygon points="362.90,227.00 376.60,213.00 376.60,218.00 362.90,232.00" fill="#f6d868" stroke="#c09a30" stroke-width="0.5" opacity="0.75"/>
<polygon points="362.90,246.00 376.60,232.00 376.60,237.00 362.90,251.00" fill="#f6d868" stroke="#c09a30" stroke-width="0.5" opacity="0.75"/>
<polygon points="362.90,265.00 376.60,251.00 376.60,256.00 362.90,270.00" fill="#f6d868" stroke="#c09a30" stroke-width="0.5" opacity="0.75"/>
<polygon points="362.90,284.00 376.60,270.00 376.60,275.00 362.90,289.00" fill="#f6d868" stroke="#c09a30" stroke-width="0.5" opacity="0.75"/>
<polygon points="362.90,303.00 376.60,289.00 376.60,294.00 362.90,308.00" fill="#f6d868" stroke="#c09a30" stroke-width="0.5" opacity="0.75"/>
<polygon points="362.90,322.00 376.60,308.00 376.60,313.00 362.90,327.00" fill="#f6d868" stroke="#c09a30" stroke-width="0.5" opacity="0.75"/>
<polygon points="362.90,341.00 376.60,327.00 376.60,332.00 362.90,346.00" fill="#f6d868" stroke="#c09a30" stroke-width="0.5" opacity="0.75"/>
<polygon points="362.90,360.00 376.60,346.00 376.60,351.00 362.90,365.00" fill="#f6d868" stroke="#c09a30" stroke-width="0.5" opacity="0.75"/>
<polygon points="362.90,379.00 376.60,365.00 376.60,370.00 362.90,384.00" fill="#f6d868" stroke="#c09a30" stroke-width="0.5" opacity="0.75"/>
<polygon points="362.90,398.00 376.60,384.00 376.60,389.00 362.90,403.00" fill="#f6d868" stroke="#c09a30" stroke-width="0.5" opacity="0.75"/>
<polygon points="362.90,417.00 376.60,403.00 376.60,408.00 362.90,422.00" fill="#f6d868" stroke="#c09a30" stroke-width="0.5" opacity="0.75"/>
</g>
<clipPath id="nc1"><rect x="386.0" y="200" width="13.800000000000011" height="73"/></clipPath>
<g clip-path="url(#nc1)">
<polygon points="386.00,152.00 399.80,166.00 399.80,172.50 386.00,158.50" fill="#f0c844" stroke="#c09a30" stroke-width="0.6"/>
<line x1="386.0" y1="155.2" x2="399.8" y2="169.2" stroke="#c09a30" stroke-width="0.7" opacity="0.7"/>
<polygon points="386.00,161.50 399.80,175.50 399.80,182.00 386.00,168.00" fill="#f0c844" stroke="#c09a30" stroke-width="0.6"/>
<line x1="386.0" y1="164.8" x2="399.8" y2="178.8" stroke="#c09a30" stroke-width="0.7" opacity="0.7"/>
<polygon points="386.00,171.00 399.80,185.00 399.80,191.50 386.00,177.50" fill="#f0c844" stroke="#c09a30" stroke-width="0.6"/>
<line x1="386.0" y1="174.2" x2="399.8" y2="188.2" stroke="#c09a30" stroke-width="0.7" opacity="0.7"/>
<polygon points="386.00,180.50 399.80,194.50 399.80,201.00 386.00,187.00" fill="#f0c844" stroke="#c09a30" stroke-width="0.6"/>
<line x1="386.0" y1="183.8" x2="399.8" y2="197.8" stroke="#c09a30" stroke-width="0.7" opacity="0.7"/>
<polygon points="386.00,190.00 399.80,204.00 399.80,210.50 386.00,196.50" fill="#f0c844" stroke="#c09a30" stroke-width="0.6"/>
<line x1="386.0" y1="193.2" x2="399.8" y2="207.2" stroke="#c09a30" stroke-width="0.7" opacity="0.7"/>
<polygon points="386.00,199.50 399.80,213.50 399.80,220.00 386.00,206.00" fill="#f0c844" stroke="#c09a30" stroke-width="0.6"/>
<line x1="386.0" y1="202.8" x2="399.8" y2="216.8" stroke="#c09a30" stroke-width="0.7" opacity="0.7"/>
<polygon points="386.00,209.00 399.80,223.00 399.80,229.50 386.00,215.50" fill="#f0c844" stroke="#c09a30" stroke-width="0.6"/>
<line x1="386.0" y1="212.2" x2="399.8" y2="226.2" stroke="#c09a30" stroke-width="0.7" opacity="0.7"/>
<polygon points="386.00,218.50 399.80,232.50 399.80,239.00 386.00,225.00" fill="#f0c844" stroke="#c09a30" stroke-width="0.6"/>
<line x1="386.0" y1="221.8" x2="399.8" y2="235.8" stroke="#c09a30" stroke-width="0.7" opacity="0.7"/>
<polygon points="386.00,228.00 399.80,242.00 399.80,248.50 386.00,234.50" fill="#f0c844" stroke="#c09a30" stroke-width="0.6"/>
<line x1="386.0" y1="231.2" x2="399.8" y2="245.2" stroke="#c09a30" stroke-width="0.7" opacity="0.7"/>
<polygon points="386.00,237.50 399.80,251.50 399.80,258.00 386.00,244.00" fill="#f0c844" stroke="#c09a30" stroke-width="0.6"/>
<line x1="386.0" y1="240.8" x2="399.8" y2="254.8" stroke="#c09a30" stroke-width="0.7" opacity="0.7"/>
<polygon points="386.00,247.00 399.80,261.00 399.80,267.50 386.00,253.50" fill="#f0c844" stroke="#c09a30" stroke-width="0.6"/>
<line x1="386.0" y1="250.2" x2="399.8" y2="264.2" stroke="#c09a30" stroke-width="0.7" opacity="0.7"/>
<polygon points="386.00,256.50 399.80,270.50 399.80,277.00 386.00,263.00" fill="#f0c844" stroke="#c09a30" stroke-width="0.6"/>
<line x1="386.0" y1="259.8" x2="399.8" y2="273.8" stroke="#c09a30" stroke-width="0.7" opacity="0.7"/>
<polygon points="386.00,266.00 399.80,280.00 399.80,286.50 386.00,272.50" fill="#f0c844" stroke="#c09a30" stroke-width="0.6"/>
<line x1="386.0" y1="269.2" x2="399.8" y2="283.2" stroke="#c09a30" stroke-width="0.7" opacity="0.7"/>
<polygon points="386.00,275.50 399.80,289.50 399.80,296.00 386.00,282.00" fill="#f0c844" stroke="#c09a30" stroke-width="0.6"/>
<line x1="386.0" y1="278.8" x2="399.8" y2="292.8" stroke="#c09a30" stroke-width="0.7" opacity="0.7"/>
<polygon points="386.00,285.00 399.80,299.00 399.80,305.50 386.00,291.50" fill="#f0c844" stroke="#c09a30" stroke-width="0.6"/>
<line x1="386.0" y1="288.2" x2="399.8" y2="302.2" stroke="#c09a30" stroke-width="0.7" opacity="0.7"/>
<polygon points="386.00,294.50 399.80,308.50 399.80,315.00 386.00,301.00" fill="#f0c844" stroke="#c09a30" stroke-width="0.6"/>
<line x1="386.0" y1="297.8" x2="399.8" y2="311.8" stroke="#c09a30" stroke-width="0.7" opacity="0.7"/>
<polygon points="386.00,132.00 399.80,118.00 399.80,123.00 386.00,137.00" fill="#f6d868" stroke="#c09a30" stroke-width="0.5" opacity="0.75"/>
<polygon points="386.00,151.00 399.80,137.00 399.80,142.00 386.00,156.00" fill="#f6d868" stroke="#c09a30" stroke-width="0.5" opacity="0.75"/>
<polygon points="386.00,170.00 399.80,156.00 399.80,161.00 386.00,175.00" fill="#f6d868" stroke="#c09a30" stroke-width="0.5" opacity="0.75"/>
<polygon points="386.00,189.00 399.80,175.00 399.80,180.00 386.00,194.00" fill="#f6d868" stroke="#c09a30" stroke-width="0.5" opacity="0.75"/>
<polygon points="386.00,208.00 399.80,194.00 399.80,199.00 386.00,213.00" fill="#f6d868" stroke="#c09a30" stroke-width="0.5" opacity="0.75"/>
<polygon points="386.00,227.00 399.80,213.00 399.80,218.00 386.00,232.00" fill="#f6d868" stroke="#c09a30" stroke-width="0.5" opacity="0.75"/>
<polygon points="386.00,246.00 399.80,232.00 399.80,237.00 386.00,251.00" fill="#f6d868" stroke="#c09a30" stroke-width="0.5" opacity="0.75"/>
<polygon points="386.00,265.00 399.80,251.00 399.80,256.00 386.00,270.00" fill="#f6d868" stroke="#c09a30" stroke-width="0.5" opacity="0.75"/>
<polygon points="386.00,284.00 399.80,270.00 399.80,275.00 386.00,289.00" fill="#f6d868" stroke="#c09a30" stroke-width="0.5" opacity="0.75"/>
<polygon points="386.00,303.00 399.80,289.00 399.80,294.00 386.00,308.00" fill="#f6d868" stroke="#c09a30" stroke-width="0.5" opacity="0.75"/>
<polygon points="386.00,322.00 399.80,308.00 399.80,313.00 386.00,327.00" fill="#f6d868" stroke="#c09a30" stroke-width="0.5" opacity="0.75"/>
<polygon points="386.00,341.00 399.80,327.00 399.80,332.00 386.00,346.00" fill="#f6d868" stroke="#c09a30" stroke-width="0.5" opacity="0.75"/>
<polygon points="386.00,360.00 399.80,346.00 399.80,351.00 386.00,365.00" fill="#f6d868" stroke="#c09a30" stroke-width="0.5" opacity="0.75"/>
<polygon points="386.00,379.00 399.80,365.00 399.80,370.00 386.00,384.00" fill="#f6d868" stroke="#c09a30" stroke-width="0.5" opacity="0.75"/>
<polygon points="386.00,398.00 399.80,384.00 399.80,389.00 386.00,403.00" fill="#f6d868" stroke="#c09a30" stroke-width="0.5" opacity="0.75"/>
<polygon points="386.00,417.00 399.80,403.00 399.80,408.00 386.00,422.00" fill="#f6d868" stroke="#c09a30" stroke-width="0.5" opacity="0.75"/>
</g>
<rect x="363" y="190" width="37" height="8" fill="#fff"/>
<rect x="353.0" y="214.8" width="10.4" height="7.2" fill="#fff"/>
<rect x="353.0" y="249" width="10.4" height="8.5" fill="#fff"/>
<line x1="358.2" y1="215" x2="358.2" y2="222" stroke="#888" stroke-width="0.5" stroke-dasharray="1,1"/>
<line x1="358.2" y1="249" x2="358.2" y2="257.5" stroke="#888" stroke-width="0.5" stroke-dasharray="1,1"/>
<polygon points="352.59999999999997,195.2 363.8,195.2 361.59999999999997,206.5 354.8,206.5" fill="#f0c844" stroke="#c09a30" stroke-width="0.5"/>
<polygon points="355.68,195.2 360.71999999999997,195.2 358.2,206.5" fill="#c09a30" opacity="0.5"/>
<polygon points="355.3,206.5 361.09999999999997,206.5 362.59999999999997,209.0 362.59999999999997,213.8 361.09999999999997,214.8 355.3,214.8 353.8,213.8 353.8,209.0" fill="#22d422" stroke="#12a812" stroke-width="0.4"/>
<polygon points="355.3,206.5 361.09999999999997,206.5 359.96,209.5 356.44,209.5" fill="#58e858" opacity="0.8"/>
<line x1="353.8" y1="211.2" x2="362.59999999999997" y2="211.2" stroke="#12a812" stroke-width="0.5" opacity="0.6"/>
<polygon points="355.3,222.0 361.09999999999997,222.0 362.59999999999997,224.5 362.59999999999997,229.2 361.09999999999997,230.2 355.3,230.2 353.8,229.2 353.8,224.5" fill="#22d422" stroke="#12a812" stroke-width="0.4"/>
<polygon points="355.3,222.0 361.09999999999997,222.0 359.96,225.0 356.44,225.0" fill="#58e858" opacity="0.8"/>
<line x1="353.8" y1="226.6" x2="362.59999999999997" y2="226.6" stroke="#12a812" stroke-width="0.5" opacity="0.6"/>
<polygon points="353.2,230.2 363.2,230.2 359.7,235.35 363.2,240.5 353.2,240.5 356.7,235.35" fill="#f0c844" stroke="#c09a30" stroke-width="0.5"/>
<polygon points="355.3,240.5 361.09999999999997,240.5 362.59999999999997,243.0 362.59999999999997,248.0 361.09999999999997,249.0 355.3,249.0 353.8,248.0 353.8,243.0" fill="#22d422" stroke="#12a812" stroke-width="0.4"/>
<polygon points="355.3,240.5 361.09999999999997,240.5 359.96,243.5 356.44,243.5" fill="#58e858" opacity="0.8"/>
<line x1="353.8" y1="245.2" x2="362.59999999999997" y2="245.2" stroke="#12a812" stroke-width="0.5" opacity="0.6"/>
<polygon points="355.3,257.5 361.09999999999997,257.5 362.59999999999997,260.0 362.59999999999997,265.2 361.09999999999997,266.2 355.3,266.2 353.8,265.2 353.8,260.0" fill="#22d422" stroke="#12a812" stroke-width="0.4"/>
<polygon points="355.3,257.5 361.09999999999997,257.5 359.96,260.5 356.44,260.5" fill="#58e858" opacity="0.8"/>
<line x1="353.8" y1="262.4" x2="362.59999999999997" y2="262.4" stroke="#12a812" stroke-width="0.5" opacity="0.6"/>
<polygon points="354.59999999999997,266.2 361.8,266.2 363.8,278 352.59999999999997,278" fill="#f0c844" stroke="#c09a30" stroke-width="0.5"/>
<polygon points="356.4,266.2 360.0,266.2 361.2,278 355.2,278" fill="#c09a30" opacity="0.45"/>
<polygon points="375.7,195.2 386.90000000000003,195.2 384.7,206.5 377.90000000000003,206.5" fill="#f0c844" stroke="#c09a30" stroke-width="0.5"/>
<polygon points="378.78000000000003,195.2 383.82,195.2 381.3,206.5" fill="#c09a30" opacity="0.5"/>
<polygon points="378.40000000000003,206.5 384.2,206.5 385.7,209.0 385.7,213.8 384.2,214.8 378.40000000000003,214.8 376.90000000000003,213.8 376.90000000000003,209.0" fill="#22d422" stroke="#12a812" stroke-width="0.4"/>
<polygon points="378.40000000000003,206.5 384.2,206.5 383.06,209.5 379.54,209.5" fill="#58e858" opacity="0.8"/>
<line x1="376.90000000000003" y1="211.2" x2="385.7" y2="211.2" stroke="#12a812" stroke-width="0.5" opacity="0.6"/>
<polygon points="378.40000000000003,222.0 384.2,222.0 385.7,224.5 385.7,229.2 384.2,230.2 378.40000000000003,230.2 376.90000000000003,229.2 376.90000000000003,224.5" fill="#22d422" stroke="#12a812" stroke-width="0.4"/>
<polygon points="378.40000000000003,222.0 384.2,222.0 383.06,225.0 379.54,225.0" fill="#58e858" opacity="0.8"/>
<line x1="376.90000000000003" y1="226.6" x2="385.7" y2="226.6" stroke="#12a812" stroke-width="0.5" opacity="0.6"/>
<polygon points="376.3,230.2 386.3,230.2 382.8,235.35 386.3,240.5 376.3,240.5 379.8,235.35" fill="#f0c844" stroke="#c09a30" stroke-width="0.5"/>
<polygon points="378.40000000000003,240.5 384.2,240.5 385.7,243.0 385.7,248.0 384.2,249.0 378.40000000000003,249.0 376.90000000000003,248.0 376.90000000000003,243.0" fill="#22d422" stroke="#12a812" stroke-width="0.4"/>
<polygon points="378.40000000000003,240.5 384.2,240.5 383.06,243.5 379.54,243.5" fill="#58e858" opacity="0.8"/>
<line x1="376.90000000000003" y1="245.2" x2="385.7" y2="245.2" stroke="#12a812" stroke-width="0.5" opacity="0.6"/>
<polygon points="378.40000000000003,257.5 384.2,257.5 385.7,260.0 385.7,265.2 384.2,266.2 378.40000000000003,266.2 376.90000000000003,265.2 376.90000000000003,260.0" fill="#22d422" stroke="#12a812" stroke-width="0.4"/>
<polygon points="378.40000000000003,257.5 384.2,257.5 383.06,260.5 379.54,260.5" fill="#58e858" opacity="0.8"/>
<line x1="376.90000000000003" y1="262.4" x2="385.7" y2="262.4" stroke="#12a812" stroke-width="0.5" opacity="0.6"/>
<polygon points="377.7,266.2 384.90000000000003,266.2 386.90000000000003,278 375.7,278" fill="#f0c844" stroke="#c09a30" stroke-width="0.5"/>
<polygon points="379.5,266.2 383.1,266.2 384.3,278 378.3,278" fill="#c09a30" opacity="0.45"/>
<rect x="399.3" y="214.8" width="10.4" height="7.2" fill="#fff"/>
<rect x="399.3" y="249" width="10.4" height="8.5" fill="#fff"/>
<line x1="404.5" y1="215" x2="404.5" y2="222" stroke="#888" stroke-width="0.5" stroke-dasharray="1,1"/>
<line x1="404.5" y1="249" x2="404.5" y2="257.5" stroke="#888" stroke-width="0.5" stroke-dasharray="1,1"/>
<polygon points="398.9,195.2 410.1,195.2 407.9,206.5 401.1,206.5" fill="#f0c844" stroke="#c09a30" stroke-width="0.5"/>
<polygon points="401.98,195.2 407.02,195.2 404.5,206.5" fill="#c09a30" opacity="0.5"/>
<polygon points="401.6,206.5 407.4,206.5 408.9,209.0 408.9,213.8 407.4,214.8 401.6,214.8 400.1,213.8 400.1,209.0" fill="#22d422" stroke="#12a812" stroke-width="0.4"/>
<polygon points="401.6,206.5 407.4,206.5 406.26,209.5 402.74,209.5" fill="#58e858" opacity="0.8"/>
<line x1="400.1" y1="211.2" x2="408.9" y2="211.2" stroke="#12a812" stroke-width="0.5" opacity="0.6"/>
<polygon points="401.6,222.0 407.4,222.0 408.9,224.5 408.9,229.2 407.4,230.2 401.6,230.2 400.1,229.2 400.1,224.5" fill="#22d422" stroke="#12a812" stroke-width="0.4"/>
<polygon points="401.6,222.0 407.4,222.0 406.26,225.0 402.74,225.0" fill="#58e858" opacity="0.8"/>
<line x1="400.1" y1="226.6" x2="408.9" y2="226.6" stroke="#12a812" stroke-width="0.5" opacity="0.6"/>
<polygon points="399.5,230.2 409.5,230.2 406.0,235.35 409.5,240.5 399.5,240.5 403.0,235.35" fill="#f0c844" stroke="#c09a30" stroke-width="0.5"/>
<polygon points="401.6,240.5 407.4,240.5 408.9,243.0 408.9,248.0 407.4,249.0 401.6,249.0 400.1,248.0 400.1,243.0" fill="#22d422" stroke="#12a812" stroke-width="0.4"/>
<polygon points="401.6,240.5 407.4,240.5 406.26,243.5 402.74,243.5" fill="#58e858" opacity="0.8"/>
<line x1="400.1" y1="245.2" x2="408.9" y2="245.2" stroke="#12a812" stroke-width="0.5" opacity="0.6"/>
<polygon points="401.6,257.5 407.4,257.5 408.9,260.0 408.9,265.2 407.4,266.2 401.6,266.2 400.1,265.2 400.1,260.0" fill="#22d422" stroke="#12a812" stroke-width="0.4"/>
<polygon points="401.6,257.5 407.4,257.5 406.26,260.5 402.74,260.5" fill="#58e858" opacity="0.8"/>
<line x1="400.1" y1="262.4" x2="408.9" y2="262.4" stroke="#12a812" stroke-width="0.5" opacity="0.6"/>
<polygon points="400.9,266.2 408.1,266.2 410.1,278 398.9,278" fill="#f0c844" stroke="#c09a30" stroke-width="0.5"/>
<polygon points="402.7,266.2 406.3,266.2 407.5,278 401.5,278" fill="#c09a30" opacity="0.45"/>
<rect x="377.1" y="214.4" width="8.4" height="8.4" fill="#fff" opacity="0.85"/>
<polygon points="381.3,215.0 384.90000000000003,218.6 381.3,222.2 377.7,218.6" fill="#2840c4"/>
<circle cx="381.3" cy="218.6" r="1.26" fill="#6070e0"/>
<circle cx="374.5" cy="254.3" r="3" fill="#9cc0f4"/>
<circle cx="381.5" cy="254.3" r="3" fill="#fde58a" stroke="#c09a30" stroke-width="0.5"/>
<polygon points="383.8,251.3 389.8,254.3 383.8,257.3" fill="#3a68e0"/>
<polygon points="369.5,199 376.5,199 378,202.5 373.0,206.5 368,202.5" fill="#22d422"/>
<circle cx="365.8" cy="206.7" r="2.6" fill="#fde58a" stroke="#c09a30" stroke-width="0.6"/>
<circle cx="365.8" cy="206.7" r="1" fill="#fff"/>
<rect x="384.8" y="202.4" width="8.2" height="8.2" fill="#fff" opacity="0.85"/>
<polygon points="388.9,203.0 392.4,206.5 388.9,210.0 385.4,206.5" fill="#2840c4"/>
<circle cx="388.9" cy="206.5" r="1.22" fill="#6070e0"/>
<polygon points="392.6,203.8 398.0,206.5 392.6,209.2" fill="#9cc0f4"/>
<rect x="360.6" y="215.1" width="7.4" height="7.4" fill="#fff" opacity="0.85"/>
<polygon points="364.3,215.70000000000002 367.40000000000003,218.8 364.3,221.9 361.2,218.8" fill="#2840c4"/>
<circle cx="364.3" cy="218.8" r="1.08" fill="#6070e0"/>
<rect x="394.5" y="215.1" width="7.4" height="7.4" fill="#fff" opacity="0.85"/>
<polygon points="398.2,215.70000000000002 401.3,218.8 398.2,221.9 395.09999999999997,218.8" fill="#2840c4"/>
<circle cx="398.2" cy="218.8" r="1.08" fill="#6070e0"/>
<rect x="369.9" y="226.5" width="8.2" height="8.2" fill="#fff" opacity="0.85"/>
<polygon points="374.0,227.1 377.5,230.6 374.0,234.1 370.5,230.6" fill="#2840c4"/>
<circle cx="374.0" cy="230.6" r="1.22" fill="#6070e0"/>
<polygon points="364.5,227.9 369.9,230.6 364.5,233.29999999999998" fill="#9cc0f4"/>
<circle cx="396.1" cy="230.8" r="2.6" fill="#fde58a" stroke="#c09a30" stroke-width="0.6"/>
<circle cx="396.1" cy="230.8" r="1" fill="#fff"/>
<polygon points="385.0,232 393.0,232 389,238.8" fill="#22d422"/>
<rect x="384.8" y="238.2" width="8.2" height="8.2" fill="#fff" opacity="0.85"/>
<polygon points="388.9,238.8 392.4,242.3 388.9,245.8 385.4,242.3" fill="#2840c4"/>
<circle cx="388.9" cy="242.3" r="1.22" fill="#6070e0"/>
<polygon points="393.1,239.60000000000002 398.5,242.3 393.1,245.0" fill="#2840c4"/>
<polygon points="369.5,256 377.5,256 373.5,262" fill="#22d422"/>
<rect x="370.1" y="261.9" width="7.8" height="7.8" fill="#fff" opacity="0.85"/>
<polygon points="374.0,262.5 377.3,265.8 374.0,269.1 370.7,265.8" fill="#2840c4"/>
<circle cx="374.0" cy="265.8" r="1.15" fill="#6070e0"/>
<polygon points="364.2,263.0 369.8,265.8 364.2,268.6" fill="#2840c4"/>
<polygon points="385.5,267 393.5,267 393.5,273 385.5,273" fill="#22d422"/>
<line x1="363" y1="201.5" x2="399" y2="201.5" stroke="#666" stroke-width="0.5" stroke-dasharray="1,1"/>
<line x1="363" y1="271.8" x2="399" y2="271.8" stroke="#666" stroke-width="0.5" stroke-dasharray="1,1"/>
<circle cx="353.2" cy="195.2" r="1.4" fill="#e8201c"/>
<circle cx="363.2" cy="195.2" r="1.4" fill="#e8201c"/>
<circle cx="353.2" cy="206.5" r="1.4" fill="#e8201c"/>
<circle cx="363.2" cy="206.5" r="1.4" fill="#e8201c"/>
<circle cx="353.2" cy="214.8" r="1.4" fill="#e8201c"/>
<circle cx="363.2" cy="214.8" r="1.4" fill="#e8201c"/>
<circle cx="353.2" cy="222.0" r="1.4" fill="#e8201c"/>
<circle cx="363.2" cy="222.0" r="1.4" fill="#e8201c"/>
<circle cx="353.2" cy="230.2" r="1.4" fill="#e8201c"/>
<circle cx="363.2" cy="230.2" r="1.4" fill="#e8201c"/>
<circle cx="353.2" cy="240.5" r="1.4" fill="#e8201c"/>
<circle cx="363.2" cy="240.5" r="1.4" fill="#e8201c"/>
<circle cx="353.2" cy="249.0" r="1.4" fill="#e8201c"/>
<circle cx="363.2" cy="249.0" r="1.4" fill="#e8201c"/>
<circle cx="353.2" cy="257.5" r="1.4" fill="#e8201c"/>
<circle cx="363.2" cy="257.5" r="1.4" fill="#e8201c"/>
<circle cx="353.2" cy="266.2" r="1.4" fill="#e8201c"/>
<circle cx="363.2" cy="266.2" r="1.4" fill="#e8201c"/>
<circle cx="353.2" cy="278.0" r="1.4" fill="#e8201c"/>
<circle cx="363.2" cy="278.0" r="1.4" fill="#e8201c"/>
<circle cx="358.2" cy="195.2" r="1.4" fill="#e8201c"/>
<circle cx="358.2" cy="278.0" r="1.4" fill="#e8201c"/>
<circle cx="376.3" cy="195.2" r="1.4" fill="#e8201c"/>
<circle cx="386.3" cy="195.2" r="1.4" fill="#e8201c"/>
<circle cx="376.3" cy="206.5" r="1.4" fill="#e8201c"/>
<circle cx="386.3" cy="206.5" r="1.4" fill="#e8201c"/>
<circle cx="376.3" cy="214.8" r="1.4" fill="#e8201c"/>
<circle cx="386.3" cy="214.8" r="1.4" fill="#e8201c"/>
<circle cx="376.3" cy="222.0" r="1.4" fill="#e8201c"/>
<circle cx="386.3" cy="222.0" r="1.4" fill="#e8201c"/>
<circle cx="376.3" cy="230.2" r="1.4" fill="#e8201c"/>
<circle cx="386.3" cy="230.2" r="1.4" fill="#e8201c"/>
<circle cx="376.3" cy="240.5" r="1.4" fill="#e8201c"/>
<circle cx="386.3" cy="240.5" r="1.4" fill="#e8201c"/>
<circle cx="376.3" cy="249.0" r="1.4" fill="#e8201c"/>
<circle cx="386.3" cy="249.0" r="1.4" fill="#e8201c"/>
<circle cx="376.3" cy="257.5" r="1.4" fill="#e8201c"/>
<circle cx="386.3" cy="257.5" r="1.4" fill="#e8201c"/>
<circle cx="376.3" cy="266.2" r="1.4" fill="#e8201c"/>
<circle cx="386.3" cy="266.2" r="1.4" fill="#e8201c"/>
<circle cx="376.3" cy="278.0" r="1.4" fill="#e8201c"/>
<circle cx="386.3" cy="278.0" r="1.4" fill="#e8201c"/>
<circle cx="381.3" cy="195.2" r="1.4" fill="#e8201c"/>
<circle cx="381.3" cy="278.0" r="1.4" fill="#e8201c"/>
<circle cx="399.5" cy="195.2" r="1.4" fill="#e8201c"/>
<circle cx="409.5" cy="195.2" r="1.4" fill="#e8201c"/>
<circle cx="399.5" cy="206.5" r="1.4" fill="#e8201c"/>
<circle cx="409.5" cy="206.5" r="1.4" fill="#e8201c"/>
<circle cx="399.5" cy="214.8" r="1.4" fill="#e8201c"/>
<circle cx="409.5" cy="214.8" r="1.4" fill="#e8201c"/>
<circle cx="399.5" cy="222.0" r="1.4" fill="#e8201c"/>
<circle cx="409.5" cy="222.0" r="1.4" fill="#e8201c"/>
<circle cx="399.5" cy="230.2" r="1.4" fill="#e8201c"/>
<circle cx="409.5" cy="230.2" r="1.4" fill="#e8201c"/>
<circle cx="399.5" cy="240.5" r="1.4" fill="#e8201c"/>
<circle cx="409.5" cy="240.5" r="1.4" fill="#e8201c"/>
<circle cx="399.5" cy="249.0" r="1.4" fill="#e8201c"/>
<circle cx="409.5" cy="249.0" r="1.4" fill="#e8201c"/>
<circle cx="399.5" cy="257.5" r="1.4" fill="#e8201c"/>
<circle cx="409.5" cy="257.5" r="1.4" fill="#e8201c"/>
<circle cx="399.5" cy="266.2" r="1.4" fill="#e8201c"/>
<circle cx="409.5" cy="266.2" r="1.4" fill="#e8201c"/>
<circle cx="399.5" cy="278.0" r="1.4" fill="#e8201c"/>
<circle cx="409.5" cy="278.0" r="1.4" fill="#e8201c"/>
<circle cx="404.5" cy="195.2" r="1.4" fill="#e8201c"/>
<circle cx="404.5" cy="278.0" r="1.4" fill="#e8201c"/>
<circle cx="368.5" cy="199.5" r="1.4" fill="#e8201c"/>
<circle cx="377.5" cy="199.5" r="1.4" fill="#e8201c"/>
<circle cx="385.0" cy="206.5" r="1.4" fill="#e8201c"/>
<circle cx="392.4" cy="206.5" r="1.4" fill="#e8201c"/>
<circle cx="388.9" cy="203.0" r="1.4" fill="#e8201c"/>
<circle cx="388.9" cy="210.0" r="1.4" fill="#e8201c"/>
<circle cx="381.3" cy="215.0" r="1.4" fill="#e8201c"/>
<circle cx="381.3" cy="222.3" r="1.4" fill="#e8201c"/>
<circle cx="377.7" cy="218.6" r="1.4" fill="#e8201c"/>
<circle cx="384.9" cy="218.6" r="1.4" fill="#e8201c"/>
<circle cx="364.3" cy="215.5" r="1.4" fill="#e8201c"/>
<circle cx="364.3" cy="222.0" r="1.4" fill="#e8201c"/>
<circle cx="398.2" cy="215.5" r="1.4" fill="#e8201c"/>
<circle cx="398.2" cy="222.0" r="1.4" fill="#e8201c"/>
<circle cx="370.5" cy="230.6" r="1.4" fill="#e8201c"/>
<circle cx="377.5" cy="230.6" r="1.4" fill="#e8201c"/>
<circle cx="374.0" cy="227.0" r="1.4" fill="#e8201c"/>
<circle cx="374.0" cy="234.1" r="1.4" fill="#e8201c"/>
<circle cx="385.4" cy="242.3" r="1.4" fill="#e8201c"/>
<circle cx="392.4" cy="242.3" r="1.4" fill="#e8201c"/>
<circle cx="388.9" cy="238.8" r="1.4" fill="#e8201c"/>
<circle cx="388.9" cy="245.8" r="1.4" fill="#e8201c"/>
<circle cx="370.7" cy="265.8" r="1.4" fill="#e8201c"/>
<circle cx="377.3" cy="265.8" r="1.4" fill="#e8201c"/>
<circle cx="374.0" cy="262.5" r="1.4" fill="#e8201c"/>
<circle cx="374.0" cy="269.1" r="1.4" fill="#e8201c"/>
<circle cx="363.6" cy="265.8" r="1.4" fill="#e8201c"/>
<circle cx="370.0" cy="212.0" r="1.4" fill="#e8201c"/>
<circle cx="392.0" cy="225.0" r="1.4" fill="#e8201c"/>
<circle cx="372.0" cy="246.0" r="1.4" fill="#e8201c"/>
<circle cx="392.0" cy="260.0" r="1.4" fill="#e8201c"/>
<circle cx="369.0" cy="240.0" r="1.4" fill="#e8201c"/>
<circle cx="394.0" cy="250.0" r="1.4" fill="#e8201c"/>
<circle cx="385.0" cy="232.0" r="1.4" fill="#e8201c"/>
<circle cx="393.0" cy="232.0" r="1.4" fill="#e8201c"/>
<circle cx="369.5" cy="256.0" r="1.4" fill="#e8201c"/>
<circle cx="377.5" cy="256.0" r="1.4" fill="#e8201c"/>
<line x1="338.3" y1="279.5" x2="338.3" y2="270.0" stroke="#2a2ad0" stroke-width="1.2"/>
<polygon points="338.30,268.20 339.60,270.00 337.00,270.00" fill="#2a2ad0"/>
<text x="338.5" y="268.5" font-size="8.5" font-weight="bold" fill="#111" text-anchor="middle">c</text>
<line x1="338.3" y1="279.5" x2="332.3" y2="279.5" stroke="#e02020" stroke-width="1.2"/>
<polygon points="330.50,279.50 332.30,278.20 332.30,280.80" fill="#e02020"/>
<text x="329.2" y="282.3" font-size="8.5" font-weight="bold" fill="#111" text-anchor="middle">a</text>
<line x1="338.3" y1="279.5" x2="344.8" y2="279.5" stroke="#20b040" stroke-width="1.2"/>
<polygon points="346.60,279.50 344.80,280.80 344.80,278.20" fill="#20b040"/>
<text x="349.3" y="282.0" font-size="8.5" font-weight="bold" fill="#111" text-anchor="middle">b</text>
<clipPath id="gclip"><polygon points="466.00,197.00 472.00,194.50 480.00,197.50 489.00,194.50 497.00,197.50 505.00,194.50 514.00,196.50 521.00,194.50 528.00,197.00 533.00,203.00 531.00,210.00 536.00,218.00 534.00,228.00 537.00,238.00 533.00,246.00 536.00,255.00 532.00,264.00 534.00,272.00 528.00,278.00 520.00,280.00 511.00,277.50 502.00,280.00 493.00,277.50 484.00,280.00 476.00,277.00 468.00,279.00 463.00,273.00 459.00,266.00 461.00,259.00 456.00,251.00 459.00,242.00 456.00,233.00 460.00,224.00 457.00,215.00 461.00,207.00 460.00,201.00"/></clipPath>
<polygon points="466.00,197.00 472.00,194.50 480.00,197.50 489.00,194.50 497.00,197.50 505.00,194.50 514.00,196.50 521.00,194.50 528.00,197.00 533.00,203.00 531.00,210.00 536.00,218.00 534.00,228.00 537.00,238.00 533.00,246.00 536.00,255.00 532.00,264.00 534.00,272.00 528.00,278.00 520.00,280.00 511.00,277.50 502.00,280.00 493.00,277.50 484.00,280.00 476.00,277.00 468.00,279.00 463.00,273.00 459.00,266.00 461.00,259.00 456.00,251.00 459.00,242.00 456.00,233.00 460.00,224.00 457.00,215.00 461.00,207.00 460.00,201.00" fill="#dca0a5"/>
<g clip-path="url(#gclip)">
<polygon points="467.57,205.69 471.83,211.44 461.94,212.00" fill="#e3a8ad" stroke="#c2868d" stroke-width="0.4" opacity="0.95"/>
<polygon points="467.57,205.69 461.94,212.00 456.47,204.15" fill="#de9ea4" stroke="#c2868d" stroke-width="0.4" opacity="0.95"/>
<polygon points="467.57,205.69 456.47,204.15 460.90,195.72" fill="#f5cacd" stroke="#c2868d" stroke-width="0.4" opacity="0.95"/>
<polygon points="467.57,205.69 460.90,195.72 470.80,195.16" fill="#f5cacd" stroke="#c2868d" stroke-width="0.4" opacity="0.95"/>
<polygon points="467.57,205.69 470.80,195.16 476.26,203.01" fill="#cf8f96" stroke="#c2868d" stroke-width="0.4" opacity="0.95"/>
<polygon points="467.57,205.69 476.26,203.01 471.83,211.44" fill="#e3a8ad" stroke="#c2868d" stroke-width="0.4" opacity="0.95"/>
<polygon points="483.09,200.98 488.96,208.96 479.51,212.42" fill="#e3a8ad" stroke="#c2868d" stroke-width="0.4" opacity="0.95"/>
<polygon points="483.09,200.98 479.51,212.42 471.64,206.37" fill="#cf8f96" stroke="#c2868d" stroke-width="0.4" opacity="0.95"/>
<polygon points="483.09,200.98 471.64,206.37 473.21,196.87" fill="#f5cacd" stroke="#c2868d" stroke-width="0.4" opacity="0.95"/>
<polygon points="483.09,200.98 473.21,196.87 482.66,193.42" fill="#f5cacd" stroke="#c2868d" stroke-width="0.4" opacity="0.95"/>
<polygon points="483.09,200.98 482.66,193.42 490.53,199.46" fill="#de9ea4" stroke="#c2868d" stroke-width="0.4" opacity="0.95"/>
<polygon points="483.09,200.98 490.53,199.46 488.96,208.96" fill="#e3a8ad" stroke="#c2868d" stroke-width="0.4" opacity="0.95"/>
<polygon points="496.47,200.98 506.79,207.53 498.17,211.45" fill="#e3a8ad" stroke="#c2868d" stroke-width="0.4" opacity="0.95"/>
<polygon points="496.47,200.98 498.17,211.45 490.28,206.31" fill="#cf8f96" stroke="#c2868d" stroke-width="0.4" opacity="0.95"/>
<polygon points="496.47,200.98 490.28,206.31 491.02,197.26" fill="#f5cacd" stroke="#c2868d" stroke-width="0.4" opacity="0.95"/>
<polygon points="496.47,200.98 491.02,197.26 499.65,193.34" fill="#f5cacd" stroke="#c2868d" stroke-width="0.4" opacity="0.95"/>
<polygon points="496.47,200.98 499.65,193.34 507.53,198.47" fill="#de9ea4" stroke="#c2868d" stroke-width="0.4" opacity="0.95"/>
<polygon points="496.47,200.98 507.53,198.47 506.79,207.53" fill="#e3a8ad" stroke="#c2868d" stroke-width="0.4" opacity="0.95"/>
<polygon points="516.32,202.19 524.57,205.56 518.28,212.79" fill="#e3a8ad" stroke="#c2868d" stroke-width="0.4" opacity="0.95"/>
<polygon points="516.32,202.19 518.28,212.79 508.55,211.23" fill="#c08a90" stroke="#c2868d" stroke-width="0.4" opacity="0.95"/>
<polygon points="516.32,202.19 508.55,211.23 505.10,202.44" fill="#ecb4b8" stroke="#c2868d" stroke-width="0.4" opacity="0.95"/>
<polygon points="516.32,202.19 505.10,202.44 511.39,195.21" fill="#f5cacd" stroke="#c2868d" stroke-width="0.4" opacity="0.95"/>
<polygon points="516.32,202.19 511.39,195.21 521.13,196.77" fill="#ecb4b8" stroke="#c2868d" stroke-width="0.4" opacity="0.95"/>
<polygon points="516.32,202.19 521.13,196.77 524.57,205.56" fill="#c08a90" stroke="#c2868d" stroke-width="0.4" opacity="0.95"/>
<polygon points="475.12,220.25 481.57,220.32 475.37,226.65" fill="#e3a8ad" stroke="#c2868d" stroke-width="0.4" opacity="0.95"/>
<polygon points="475.12,220.25 475.37,226.65 466.51,224.72" fill="#c08a90" stroke="#c2868d" stroke-width="0.4" opacity="0.95"/>
<polygon points="475.12,220.25 466.51,224.72 463.84,216.46" fill="#ecb4b8" stroke="#c2868d" stroke-width="0.4" opacity="0.95"/>
<polygon points="475.12,220.25 463.84,216.46 470.04,210.13" fill="#f5cacd" stroke="#c2868d" stroke-width="0.4" opacity="0.95"/>
<polygon points="475.12,220.25 470.04,210.13 478.90,212.07" fill="#ecb4b8" stroke="#c2868d" stroke-width="0.4" opacity="0.95"/>
<polygon points="475.12,220.25 478.90,212.07 481.57,220.32" fill="#c08a90" stroke="#c2868d" stroke-width="0.4" opacity="0.95"/>
<polygon points="488.59,220.81 497.32,224.52 488.30,227.53" fill="#e3a8ad" stroke="#c2868d" stroke-width="0.4" opacity="0.95"/>
<polygon points="488.59,220.81 488.30,227.53 481.05,221.61" fill="#cf8f96" stroke="#c2868d" stroke-width="0.4" opacity="0.95"/>
<polygon points="488.59,220.81 481.05,221.61 482.82,212.69" fill="#f5cacd" stroke="#c2868d" stroke-width="0.4" opacity="0.95"/>
<polygon points="488.59,220.81 482.82,212.69 491.84,209.69" fill="#f5cacd" stroke="#c2868d" stroke-width="0.4" opacity="0.95"/>
<polygon points="488.59,220.81 491.84,209.69 499.08,215.60" fill="#de9ea4" stroke="#c2868d" stroke-width="0.4" opacity="0.95"/>
<polygon points="488.59,220.81 499.08,215.60 497.32,224.52" fill="#e3a8ad" stroke="#c2868d" stroke-width="0.4" opacity="0.95"/>
<polygon points="507.08,216.95 517.34,221.56 509.87,227.96" fill="#e3a8ad" stroke="#c2868d" stroke-width="0.4" opacity="0.95"/>
<polygon points="507.08,216.95 509.87,227.96 500.31,225.02" fill="#c08a90" stroke="#c2868d" stroke-width="0.4" opacity="0.95"/>
<polygon points="507.08,216.95 500.31,225.02 498.21,215.68" fill="#ecb4b8" stroke="#c2868d" stroke-width="0.4" opacity="0.95"/>
<polygon points="507.08,216.95 498.21,215.68 505.67,209.28" fill="#f5cacd" stroke="#c2868d" stroke-width="0.4" opacity="0.95"/>
<polygon points="507.08,216.95 505.67,209.28 515.23,212.22" fill="#ecb4b8" stroke="#c2868d" stroke-width="0.4" opacity="0.95"/>
<polygon points="507.08,216.95 515.23,212.22 517.34,221.56" fill="#c08a90" stroke="#c2868d" stroke-width="0.4" opacity="0.95"/>
<polygon points="520.15,217.35 530.08,221.63 521.64,225.17" fill="#e3a8ad" stroke="#c2868d" stroke-width="0.4" opacity="0.95"/>
<polygon points="520.15,217.35 521.64,225.17 514.20,219.99" fill="#cf8f96" stroke="#c2868d" stroke-width="0.4" opacity="0.95"/>
<polygon points="520.15,217.35 514.20,219.99 515.19,211.28" fill="#f5cacd" stroke="#c2868d" stroke-width="0.4" opacity="0.95"/>
<polygon points="520.15,217.35 515.19,211.28 523.63,207.75" fill="#f5cacd" stroke="#c2868d" stroke-width="0.4" opacity="0.95"/>
<polygon points="520.15,217.35 523.63,207.75 531.07,212.92" fill="#de9ea4" stroke="#c2868d" stroke-width="0.4" opacity="0.95"/>
<polygon points="520.15,217.35 531.07,212.92 530.08,221.63" fill="#e3a8ad" stroke="#c2868d" stroke-width="0.4" opacity="0.95"/>
<polygon points="467.98,229.74 475.05,236.19 467.14,240.73" fill="#e3a8ad" stroke="#c2868d" stroke-width="0.4" opacity="0.95"/>
<polygon points="467.98,229.74 467.14,240.73 459.04,236.49" fill="#cf8f96" stroke="#c2868d" stroke-width="0.4" opacity="0.95"/>
<polygon points="467.98,229.74 459.04,236.49 458.86,227.71" fill="#f5cacd" stroke="#c2868d" stroke-width="0.4" opacity="0.95"/>
<polygon points="467.98,229.74 458.86,227.71 466.77,223.18" fill="#f5cacd" stroke="#c2868d" stroke-width="0.4" opacity="0.95"/>
<polygon points="467.98,229.74 466.77,223.18 474.87,227.42" fill="#de9ea4" stroke="#c2868d" stroke-width="0.4" opacity="0.95"/>
<polygon points="467.98,229.74 474.87,227.42 475.05,236.19" fill="#e3a8ad" stroke="#c2868d" stroke-width="0.4" opacity="0.95"/>
<polygon points="481.52,232.29 490.16,238.10 480.44,239.61" fill="#e3a8ad" stroke="#c2868d" stroke-width="0.4" opacity="0.95"/>
<polygon points="481.52,232.29 480.44,239.61 474.21,232.37" fill="#de9ea4" stroke="#c2868d" stroke-width="0.4" opacity="0.95"/>
<polygon points="481.52,232.29 474.21,232.37 477.69,223.61" fill="#f5cacd" stroke="#c2868d" stroke-width="0.4" opacity="0.95"/>
<polygon points="481.52,232.29 477.69,223.61 487.41,222.10" fill="#f5cacd" stroke="#c2868d" stroke-width="0.4" opacity="0.95"/>
<polygon points="481.52,232.29 487.41,222.10 493.65,229.34" fill="#cf8f96" stroke="#c2868d" stroke-width="0.4" opacity="0.95"/>
<polygon points="481.52,232.29 493.65,229.34 490.16,238.10" fill="#e3a8ad" stroke="#c2868d" stroke-width="0.4" opacity="0.95"/>
<polygon points="497.00,234.46 507.40,232.60 502.63,239.63" fill="#e3a8ad" stroke="#c2868d" stroke-width="0.4" opacity="0.95"/>
<polygon points="497.00,234.46 502.63,239.63 493.82,239.23" fill="#e3a8ad" stroke="#c2868d" stroke-width="0.4" opacity="0.95"/>
<polygon points="497.00,234.46 493.82,239.23 489.80,231.78" fill="#de9ea4" stroke="#c2868d" stroke-width="0.4" opacity="0.95"/>
<polygon points="497.00,234.46 489.80,231.78 494.57,224.74" fill="#f5cacd" stroke="#c2868d" stroke-width="0.4" opacity="0.95"/>
<polygon points="497.00,234.46 494.57,224.74 503.37,225.15" fill="#f5cacd" stroke="#c2868d" stroke-width="0.4" opacity="0.95"/>
<polygon points="497.00,234.46 503.37,225.15 507.40,232.60" fill="#cf8f96" stroke="#c2868d" stroke-width="0.4" opacity="0.95"/>
<polygon points="513.81,231.89 520.16,240.62 510.08,241.20" fill="#e3a8ad" stroke="#c2868d" stroke-width="0.4" opacity="0.95"/>
<polygon points="513.81,231.89 510.08,241.20 504.51,233.20" fill="#de9ea4" stroke="#c2868d" stroke-width="0.4" opacity="0.95"/>
<polygon points="513.81,231.89 504.51,233.20 509.02,224.61" fill="#f5cacd" stroke="#c2868d" stroke-width="0.4" opacity="0.95"/>
<polygon points="513.81,231.89 509.02,224.61 519.10,224.03" fill="#f5cacd" stroke="#c2868d" stroke-width="0.4" opacity="0.95"/>
<polygon points="513.81,231.89 519.10,224.03 524.67,232.03" fill="#cf8f96" stroke="#c2868d" stroke-width="0.4" opacity="0.95"/>
<polygon points="513.81,231.89 524.67,232.03 520.16,240.62" fill="#e3a8ad" stroke="#c2868d" stroke-width="0.4" opacity="0.95"/>
<polygon points="470.71,249.33 479.19,254.48 469.38,255.86" fill="#e3a8ad" stroke="#c2868d" stroke-width="0.4" opacity="0.95"/>
<polygon points="470.71,249.33 469.38,255.86 463.21,248.48" fill="#de9ea4" stroke="#c2868d" stroke-width="0.4" opacity="0.95"/>
<polygon points="470.71,249.33 463.21,248.48 466.86,239.72" fill="#f5cacd" stroke="#c2868d" stroke-width="0.4" opacity="0.95"/>
<polygon points="470.71,249.33 466.86,239.72 476.67,238.34" fill="#f5cacd" stroke="#c2868d" stroke-width="0.4" opacity="0.95"/>
<polygon points="470.71,249.33 476.67,238.34 482.83,245.72" fill="#cf8f96" stroke="#c2868d" stroke-width="0.4" opacity="0.95"/>
<polygon points="470.71,249.33 482.83,245.72 479.19,254.48" fill="#e3a8ad" stroke="#c2868d" stroke-width="0.4" opacity="0.95"/>
<polygon points="488.67,248.24 495.00,253.64 485.38,254.43" fill="#e3a8ad" stroke="#c2868d" stroke-width="0.4" opacity="0.95"/>
<polygon points="488.67,248.24 485.38,254.43 479.85,246.90" fill="#de9ea4" stroke="#c2868d" stroke-width="0.4" opacity="0.95"/>
<polygon points="488.67,248.24 479.85,246.90 483.95,238.60" fill="#f5cacd" stroke="#c2868d" stroke-width="0.4" opacity="0.95"/>
<polygon points="488.67,248.24 483.95,238.60 493.57,237.81" fill="#f5cacd" stroke="#c2868d" stroke-width="0.4" opacity="0.95"/>
<polygon points="488.67,248.24 493.57,237.81 499.09,245.33" fill="#cf8f96" stroke="#c2868d" stroke-width="0.4" opacity="0.95"/>
<polygon points="488.67,248.24 499.09,245.33 495.00,253.64" fill="#e3a8ad" stroke="#c2868d" stroke-width="0.4" opacity="0.95"/>
<polygon points="505.23,244.29 516.42,247.67 510.40,254.34" fill="#e3a8ad" stroke="#c2868d" stroke-width="0.4" opacity="0.95"/>
<polygon points="505.23,244.29 510.40,254.34 501.31,252.71" fill="#c08a90" stroke="#c2868d" stroke-width="0.4" opacity="0.95"/>
<polygon points="505.23,244.29 501.31,252.71 498.25,244.43" fill="#ecb4b8" stroke="#c2868d" stroke-width="0.4" opacity="0.95"/>
<polygon points="505.23,244.29 498.25,244.43 504.27,237.76" fill="#f5cacd" stroke="#c2868d" stroke-width="0.4" opacity="0.95"/>
<polygon points="505.23,244.29 504.27,237.76 513.36,239.39" fill="#ecb4b8" stroke="#c2868d" stroke-width="0.4" opacity="0.95"/>
<polygon points="505.23,244.29 513.36,239.39 516.42,247.67" fill="#c08a90" stroke="#c2868d" stroke-width="0.4" opacity="0.95"/>
<polygon points="526.70,247.86 533.28,248.13 528.38,255.33" fill="#e3a8ad" stroke="#c2868d" stroke-width="0.4" opacity="0.95"/>
<polygon points="526.70,247.86 528.38,255.33 519.36,254.89" fill="#e3a8ad" stroke="#c2868d" stroke-width="0.4" opacity="0.95"/>
<polygon points="526.70,247.86 519.36,254.89 515.25,247.26" fill="#de9ea4" stroke="#c2868d" stroke-width="0.4" opacity="0.95"/>
<polygon points="526.70,247.86 515.25,247.26 520.16,240.06" fill="#f5cacd" stroke="#c2868d" stroke-width="0.4" opacity="0.95"/>
<polygon points="526.70,247.86 520.16,240.06 529.17,240.49" fill="#f5cacd" stroke="#c2868d" stroke-width="0.4" opacity="0.95"/>
<polygon points="526.70,247.86 529.17,240.49 533.28,248.13" fill="#cf8f96" stroke="#c2868d" stroke-width="0.4" opacity="0.95"/>
<polygon points="464.06,263.86 474.81,265.62 467.05,270.72" fill="#e3a8ad" stroke="#c2868d" stroke-width="0.4" opacity="0.95"/>
<polygon points="464.06,263.86 467.05,270.72 458.52,266.89" fill="#c08a90" stroke="#c2868d" stroke-width="0.4" opacity="0.95"/>
<polygon points="464.06,263.86 458.52,266.89 457.75,257.95" fill="#ecb4b8" stroke="#c2868d" stroke-width="0.4" opacity="0.95"/>
<polygon points="464.06,263.86 457.75,257.95 465.51,252.85" fill="#f5cacd" stroke="#c2868d" stroke-width="0.4" opacity="0.95"/>
<polygon points="464.06,263.86 465.51,252.85 474.04,256.68" fill="#ecb4b8" stroke="#c2868d" stroke-width="0.4" opacity="0.95"/>
<polygon points="464.06,263.86 474.04,256.68 474.81,265.62" fill="#c08a90" stroke="#c2868d" stroke-width="0.4" opacity="0.95"/>
<polygon points="482.26,263.23 490.98,262.28 484.86,269.76" fill="#e3a8ad" stroke="#c2868d" stroke-width="0.4" opacity="0.95"/>
<polygon points="482.26,263.23 484.86,269.76 474.98,268.47" fill="#c08a90" stroke="#c2868d" stroke-width="0.4" opacity="0.95"/>
<polygon points="482.26,263.23 474.98,268.47 471.22,259.69" fill="#ecb4b8" stroke="#c2868d" stroke-width="0.4" opacity="0.95"/>
<polygon points="482.26,263.23 471.22,259.69 477.34,252.21" fill="#f5cacd" stroke="#c2868d" stroke-width="0.4" opacity="0.95"/>
<polygon points="482.26,263.23 477.34,252.21 487.22,253.50" fill="#ecb4b8" stroke="#c2868d" stroke-width="0.4" opacity="0.95"/>
<polygon points="482.26,263.23 487.22,253.50 490.98,262.28" fill="#c08a90" stroke="#c2868d" stroke-width="0.4" opacity="0.95"/>
<polygon points="497.64,263.41 507.43,265.43 500.00,270.17" fill="#e3a8ad" stroke="#c2868d" stroke-width="0.4" opacity="0.95"/>
<polygon points="497.64,263.41 500.00,270.17 491.97,266.44" fill="#cf8f96" stroke="#c2868d" stroke-width="0.4" opacity="0.95"/>
<polygon points="497.64,263.41 491.97,266.44 491.35,257.95" fill="#ecb4b8" stroke="#c2868d" stroke-width="0.4" opacity="0.95"/>
<polygon points="497.64,263.41 491.35,257.95 498.78,253.21" fill="#f5cacd" stroke="#c2868d" stroke-width="0.4" opacity="0.95"/>
<polygon points="497.64,263.41 498.78,253.21 506.82,256.95" fill="#de9ea4" stroke="#c2868d" stroke-width="0.4" opacity="0.95"/>
<polygon points="497.64,263.41 506.82,256.95 507.43,265.43" fill="#c08a90" stroke="#c2868d" stroke-width="0.4" opacity="0.95"/>
<polygon points="517.26,260.66 521.28,268.43 511.21,269.92" fill="#e3a8ad" stroke="#c2868d" stroke-width="0.4" opacity="0.95"/>
<polygon points="517.26,260.66 511.21,269.92 504.81,262.38" fill="#de9ea4" stroke="#c2868d" stroke-width="0.4" opacity="0.95"/>
<polygon points="517.26,260.66 504.81,262.38 508.48,253.34" fill="#f5cacd" stroke="#c2868d" stroke-width="0.4" opacity="0.95"/>
<polygon points="517.26,260.66 508.48,253.34 518.56,251.85" fill="#f5cacd" stroke="#c2868d" stroke-width="0.4" opacity="0.95"/>
<polygon points="517.26,260.66 518.56,251.85 524.96,259.39" fill="#cf8f96" stroke="#c2868d" stroke-width="0.4" opacity="0.95"/>
<polygon points="517.26,260.66 524.96,259.39 521.28,268.43" fill="#e3a8ad" stroke="#c2868d" stroke-width="0.4" opacity="0.95"/>
<polygon points="473.52,277.44 483.39,276.36 477.53,283.29" fill="#e3a8ad" stroke="#c2868d" stroke-width="0.4" opacity="0.95"/>
<polygon points="473.52,277.44 477.53,283.29 468.27,281.93" fill="#c08a90" stroke="#c2868d" stroke-width="0.4" opacity="0.95"/>
<polygon points="473.52,277.44 468.27,281.93 464.88,273.64" fill="#ecb4b8" stroke="#c2868d" stroke-width="0.4" opacity="0.95"/>
<polygon points="473.52,277.44 464.88,273.64 470.75,266.70" fill="#f5cacd" stroke="#c2868d" stroke-width="0.4" opacity="0.95"/>
<polygon points="473.52,277.44 470.75,266.70 480.00,268.06" fill="#ecb4b8" stroke="#c2868d" stroke-width="0.4" opacity="0.95"/>
<polygon points="473.52,277.44 480.00,268.06 483.39,276.36" fill="#c08a90" stroke="#c2868d" stroke-width="0.4" opacity="0.95"/>
<polygon points="490.03,274.67 500.99,278.94 493.68,284.70" fill="#e3a8ad" stroke="#c2868d" stroke-width="0.4" opacity="0.95"/>
<polygon points="490.03,274.67 493.68,284.70 484.77,281.57" fill="#c08a90" stroke="#c2868d" stroke-width="0.4" opacity="0.95"/>
<polygon points="490.03,274.67 484.77,281.57 483.17,272.67" fill="#ecb4b8" stroke="#c2868d" stroke-width="0.4" opacity="0.95"/>
<polygon points="490.03,274.67 483.17,272.67 490.48,266.91" fill="#f5cacd" stroke="#c2868d" stroke-width="0.4" opacity="0.95"/>
<polygon points="490.03,274.67 490.48,266.91 499.39,270.04" fill="#ecb4b8" stroke="#c2868d" stroke-width="0.4" opacity="0.95"/>
<polygon points="490.03,274.67 499.39,270.04 500.99,278.94" fill="#c08a90" stroke="#c2868d" stroke-width="0.4" opacity="0.95"/>
<polygon points="509.42,277.35 514.37,282.86 505.30,284.83" fill="#e3a8ad" stroke="#c2868d" stroke-width="0.4" opacity="0.95"/>
<polygon points="509.42,277.35 505.30,284.83 498.97,278.35" fill="#de9ea4" stroke="#c2868d" stroke-width="0.4" opacity="0.95"/>
<polygon points="509.42,277.35 498.97,278.35 501.72,269.90" fill="#f5cacd" stroke="#c2868d" stroke-width="0.4" opacity="0.95"/>
<polygon points="509.42,277.35 501.72,269.90 510.79,267.93" fill="#f5cacd" stroke="#c2868d" stroke-width="0.4" opacity="0.95"/>
<polygon points="509.42,277.35 510.79,267.93 517.12,274.42" fill="#cf8f96" stroke="#c2868d" stroke-width="0.4" opacity="0.95"/>
<polygon points="509.42,277.35 517.12,274.42 514.37,282.86" fill="#e3a8ad" stroke="#c2868d" stroke-width="0.4" opacity="0.95"/>
<polygon points="523.10,276.05 531.08,282.07 522.21,284.76" fill="#e3a8ad" stroke="#c2868d" stroke-width="0.4" opacity="0.95"/>
<polygon points="523.10,276.05 522.21,284.76 515.33,278.82" fill="#cf8f96" stroke="#c2868d" stroke-width="0.4" opacity="0.95"/>
<polygon points="523.10,276.05 515.33,278.82 517.30,270.18" fill="#f5cacd" stroke="#c2868d" stroke-width="0.4" opacity="0.95"/>
<polygon points="523.10,276.05 517.30,270.18 526.17,267.48" fill="#f5cacd" stroke="#c2868d" stroke-width="0.4" opacity="0.95"/>
<polygon points="523.10,276.05 526.17,267.48 533.06,273.43" fill="#de9ea4" stroke="#c2868d" stroke-width="0.4" opacity="0.95"/>
<polygon points="523.10,276.05 533.06,273.43 531.08,282.07" fill="#e3a8ad" stroke="#c2868d" stroke-width="0.4" opacity="0.95"/>
</g>
<polygon points="481.5,214.5 488.5,214.5 485,208.5" fill="#c4949a" opacity="0.8"/>
<polygon points="504.5,228.5 511.5,228.5 508,222.5" fill="#c4949a" opacity="0.8"/>
<polygon points="468.5,230.5 475.5,230.5 472,224.5" fill="#c4949a" opacity="0.8"/>
<polygon points="493.5,247.5 500.5,247.5 497,241.5" fill="#c4949a" opacity="0.8"/>
<polygon points="516.5,260.5 523.5,260.5 520,254.5" fill="#c4949a" opacity="0.8"/>
<polygon points="476.5,264.5 483.5,264.5 480,258.5" fill="#c4949a" opacity="0.8"/>
<polygon points="501.5,274.5 508.5,274.5 505,268.5" fill="#c4949a" opacity="0.8"/>
<polygon points="522.5,240.5 529.5,240.5 526,234.5" fill="#c4949a" opacity="0.8"/>
<polygon points="460.5,252.5 467.5,252.5 464,246.5" fill="#c4949a" opacity="0.8"/>
<ellipse cx="466.7" cy="206.3" rx="2.5" ry="2.8" fill="url(#gGrn)"/>
<ellipse cx="500.8" cy="206.5" rx="2.5" ry="2.8" fill="url(#gGrn)"/>
<ellipse cx="513.7" cy="206.5" rx="2.5" ry="2.8" fill="url(#gGrn)"/>
<ellipse cx="506.8" cy="211.1" rx="2.5" ry="2.8" fill="url(#gGrn)"/>
<ellipse cx="498.8" cy="217.6" rx="2.5" ry="2.8" fill="url(#gGrn)"/>
<ellipse cx="486.6" cy="222.1" rx="2.5" ry="2.8" fill="url(#gGrn)"/>
<ellipse cx="490.5" cy="222.4" rx="2.5" ry="2.8" fill="url(#gGrn)"/>
<ellipse cx="487.6" cy="225.8" rx="2.5" ry="2.8" fill="url(#gGrn)"/>
<ellipse cx="511.4" cy="233.5" rx="2.5" ry="2.8" fill="url(#gGrn)"/>
<ellipse cx="514.6" cy="238.1" rx="2.5" ry="2.8" fill="url(#gGrn)"/>
<ellipse cx="466.5" cy="237.6" rx="2.5" ry="2.8" fill="url(#gGrn)"/>
<ellipse cx="475.2" cy="242.2" rx="2.5" ry="2.8" fill="url(#gGrn)"/>
<ellipse cx="483.2" cy="248.4" rx="2.5" ry="2.8" fill="url(#gGrn)"/>
<ellipse cx="490.1" cy="252.3" rx="2.5" ry="2.8" fill="url(#gGrn)"/>
<ellipse cx="472.9" cy="263.7" rx="2.5" ry="2.8" fill="url(#gGrn)"/>
<ellipse cx="466.5" cy="267.9" rx="2.5" ry="2.8" fill="url(#gGrn)"/>
<ellipse cx="478.6" cy="269" rx="2.5" ry="2.8" fill="url(#gGrn)"/>
<ellipse cx="500.8" cy="266.7" rx="2.5" ry="2.8" fill="url(#gGrn)"/>
<ellipse cx="513.7" cy="267.9" rx="2.5" ry="2.8" fill="url(#gGrn)"/>
<ellipse cx="478.6" cy="230.1" rx="2.6" ry="2.9" fill="url(#gYel)"/>
<ellipse cx="502.2" cy="230.1" rx="2.6" ry="2.9" fill="url(#gYel)"/>
<ellipse cx="478.6" cy="259.8" rx="2.6" ry="2.9" fill="url(#gYel)"/>
<ellipse cx="502.2" cy="259.8" rx="2.6" ry="2.9" fill="url(#gYel)"/>
<circle cx="493.5" cy="214" r="1.4" fill="#e8d020"/>
<circle cx="518.7" cy="245" r="1.4" fill="#e8d020"/>
<circle cx="489" cy="262" r="1.4" fill="#e8d020"/>
<circle cx="470" cy="233" r="1.4" fill="#e8d020"/>
<circle cx="466.0" cy="197.0" r="1.45" fill="#e8201c"/>
<circle cx="472.0" cy="194.5" r="1.45" fill="#e8201c"/>
<circle cx="480.0" cy="197.5" r="1.45" fill="#e8201c"/>
<circle cx="489.0" cy="194.5" r="1.45" fill="#e8201c"/>
<circle cx="497.0" cy="197.5" r="1.45" fill="#e8201c"/>
<circle cx="505.0" cy="194.5" r="1.45" fill="#e8201c"/>
<circle cx="514.0" cy="196.5" r="1.45" fill="#e8201c"/>
<circle cx="521.0" cy="194.5" r="1.45" fill="#e8201c"/>
<circle cx="528.0" cy="197.0" r="1.45" fill="#e8201c"/>
<circle cx="533.0" cy="203.0" r="1.45" fill="#e8201c"/>
<circle cx="531.0" cy="210.0" r="1.45" fill="#e8201c"/>
<circle cx="536.0" cy="218.0" r="1.45" fill="#e8201c"/>
<circle cx="534.0" cy="228.0" r="1.45" fill="#e8201c"/>
<circle cx="537.0" cy="238.0" r="1.45" fill="#e8201c"/>
<circle cx="533.0" cy="246.0" r="1.45" fill="#e8201c"/>
<circle cx="536.0" cy="255.0" r="1.45" fill="#e8201c"/>
<circle cx="532.0" cy="264.0" r="1.45" fill="#e8201c"/>
<circle cx="534.0" cy="272.0" r="1.45" fill="#e8201c"/>
<circle cx="528.0" cy="278.0" r="1.45" fill="#e8201c"/>
<circle cx="520.0" cy="280.0" r="1.45" fill="#e8201c"/>
<circle cx="511.0" cy="277.5" r="1.45" fill="#e8201c"/>
<circle cx="502.0" cy="280.0" r="1.45" fill="#e8201c"/>
<circle cx="493.0" cy="277.5" r="1.45" fill="#e8201c"/>
<circle cx="484.0" cy="280.0" r="1.45" fill="#e8201c"/>
<circle cx="476.0" cy="277.0" r="1.45" fill="#e8201c"/>
<circle cx="468.0" cy="279.0" r="1.45" fill="#e8201c"/>
<circle cx="463.0" cy="273.0" r="1.45" fill="#e8201c"/>
<circle cx="459.0" cy="266.0" r="1.45" fill="#e8201c"/>
<circle cx="461.0" cy="259.0" r="1.45" fill="#e8201c"/>
<circle cx="456.0" cy="251.0" r="1.45" fill="#e8201c"/>
<circle cx="459.0" cy="242.0" r="1.45" fill="#e8201c"/>
<circle cx="456.0" cy="233.0" r="1.45" fill="#e8201c"/>
<circle cx="460.0" cy="224.0" r="1.45" fill="#e8201c"/>
<circle cx="457.0" cy="215.0" r="1.45" fill="#e8201c"/>
<circle cx="461.0" cy="207.0" r="1.45" fill="#e8201c"/>
<circle cx="460.0" cy="201.0" r="1.45" fill="#e8201c"/>
<circle cx="471.8" cy="211.4" r="1.45" fill="#e8201c"/>
<circle cx="476.3" cy="203.0" r="1.45" fill="#e8201c"/>
<circle cx="489.0" cy="209.0" r="1.45" fill="#e8201c"/>
<circle cx="479.5" cy="212.4" r="1.45" fill="#e8201c"/>
<circle cx="506.8" cy="207.5" r="1.45" fill="#e8201c"/>
<circle cx="498.2" cy="211.4" r="1.45" fill="#e8201c"/>
<circle cx="524.6" cy="205.6" r="1.45" fill="#e8201c"/>
<circle cx="518.3" cy="212.8" r="1.45" fill="#e8201c"/>
<circle cx="481.6" cy="220.3" r="1.45" fill="#e8201c"/>
<circle cx="475.4" cy="226.6" r="1.45" fill="#e8201c"/>
<circle cx="466.5" cy="224.7" r="1.45" fill="#e8201c"/>
<circle cx="463.8" cy="216.5" r="1.45" fill="#e8201c"/>
<circle cx="497.3" cy="224.5" r="1.45" fill="#e8201c"/>
<circle cx="488.3" cy="227.5" r="1.45" fill="#e8201c"/>
<circle cx="517.3" cy="221.6" r="1.45" fill="#e8201c"/>
<circle cx="509.9" cy="228.0" r="1.45" fill="#e8201c"/>
<circle cx="530.1" cy="221.6" r="1.45" fill="#e8201c"/>
<circle cx="521.6" cy="225.2" r="1.45" fill="#e8201c"/>
<circle cx="475.0" cy="236.2" r="1.45" fill="#e8201c"/>
<circle cx="467.1" cy="240.7" r="1.45" fill="#e8201c"/>
<circle cx="490.2" cy="238.1" r="1.45" fill="#e8201c"/>
<circle cx="480.4" cy="239.6" r="1.45" fill="#e8201c"/>
<circle cx="487.4" cy="222.1" r="1.45" fill="#e8201c"/>
<circle cx="493.6" cy="229.3" r="1.45" fill="#e8201c"/>
<circle cx="502.6" cy="239.6" r="1.45" fill="#e8201c"/>
<circle cx="503.4" cy="225.2" r="1.45" fill="#e8201c"/>
<circle cx="520.2" cy="240.6" r="1.45" fill="#e8201c"/>
<circle cx="510.1" cy="241.2" r="1.45" fill="#e8201c"/>
<circle cx="504.5" cy="233.2" r="1.45" fill="#e8201c"/>
<circle cx="524.7" cy="232.0" r="1.45" fill="#e8201c"/>
<circle cx="479.2" cy="254.5" r="1.45" fill="#e8201c"/>
<circle cx="469.4" cy="255.9" r="1.45" fill="#e8201c"/>
<circle cx="463.2" cy="248.5" r="1.45" fill="#e8201c"/>
<circle cx="482.8" cy="245.7" r="1.45" fill="#e8201c"/>
<circle cx="495.0" cy="253.6" r="1.45" fill="#e8201c"/>
<circle cx="485.4" cy="254.4" r="1.45" fill="#e8201c"/>
<circle cx="499.1" cy="245.3" r="1.45" fill="#e8201c"/>
<circle cx="516.4" cy="247.7" r="1.45" fill="#e8201c"/>
<circle cx="510.4" cy="254.3" r="1.45" fill="#e8201c"/>
<circle cx="501.3" cy="252.7" r="1.45" fill="#e8201c"/>
<circle cx="528.4" cy="255.3" r="1.45" fill="#e8201c"/>
<circle cx="519.4" cy="254.9" r="1.45" fill="#e8201c"/>
<circle cx="529.2" cy="240.5" r="1.45" fill="#e8201c"/>
<circle cx="474.8" cy="265.6" r="1.45" fill="#e8201c"/>
<circle cx="491.0" cy="262.3" r="1.45" fill="#e8201c"/>
<circle cx="484.9" cy="269.8" r="1.45" fill="#e8201c"/>
<circle cx="507.4" cy="265.4" r="1.45" fill="#e8201c"/>
<circle cx="500.0" cy="270.2" r="1.45" fill="#e8201c"/>
<circle cx="521.3" cy="268.4" r="1.45" fill="#e8201c"/>
<circle cx="511.2" cy="269.9" r="1.45" fill="#e8201c"/>
<circle cx="517.1" cy="274.4" r="1.45" fill="#e8201c"/>
<line x1="449.4" y1="280.6" x2="449.4" y2="271.6" stroke="#2a2ad0" stroke-width="1.2"/>
<polygon points="449.40,269.80 450.70,271.60 448.10,271.60" fill="#2a2ad0"/>
<text x="449.6" y="268.5" font-size="8.5" font-weight="bold" fill="#111" text-anchor="middle">c</text>
<line x1="449.4" y1="280.6" x2="443.9" y2="280.6" stroke="#e02020" stroke-width="1.2"/>
<polygon points="442.10,280.60 443.90,279.30 443.90,281.90" fill="#e02020"/>
<text x="438.8" y="283.5" font-size="8.5" font-weight="bold" fill="#111" text-anchor="middle">a</text>
<circle cx="449.4" cy="280.6" r="1" fill="#20b040"/>
<line x1="363.3" y1="309" x2="363.3" y2="386.5" stroke="#f07070" stroke-width="2"/>
<line x1="363.3" y1="319.6" x2="363.3" y2="337.6" stroke="#8fd0f4" stroke-width="2"/>
<line x1="363.3" y1="357.6" x2="363.3" y2="375.6" stroke="#8fd0f4" stroke-width="2"/>
<line x1="382.5" y1="309" x2="382.5" y2="386.5" stroke="#f07070" stroke-width="2"/>
<line x1="382.5" y1="319.6" x2="382.5" y2="337.6" stroke="#8fd0f4" stroke-width="2"/>
<line x1="382.5" y1="357.6" x2="382.5" y2="375.6" stroke="#8fd0f4" stroke-width="2"/>
<line x1="401.7" y1="309" x2="401.7" y2="386.5" stroke="#f07070" stroke-width="2"/>
<line x1="401.7" y1="319.6" x2="401.7" y2="337.6" stroke="#8fd0f4" stroke-width="2"/>
<line x1="401.7" y1="357.6" x2="401.7" y2="375.6" stroke="#8fd0f4" stroke-width="2"/>
<line x1="353.8" y1="328.6" x2="411.6" y2="328.6" stroke="#f07070" stroke-width="2"/>
<line x1="354.3" y1="328.6" x2="372.3" y2="328.6" stroke="#8fd0f4" stroke-width="2"/>
<line x1="373.5" y1="328.6" x2="391.5" y2="328.6" stroke="#8fd0f4" stroke-width="2"/>
<line x1="392.7" y1="328.6" x2="410.7" y2="328.6" stroke="#8fd0f4" stroke-width="2"/>
<line x1="353.8" y1="366.6" x2="411.6" y2="366.6" stroke="#f07070" stroke-width="2"/>
<line x1="354.3" y1="366.6" x2="372.3" y2="366.6" stroke="#8fd0f4" stroke-width="2"/>
<line x1="373.5" y1="366.6" x2="391.5" y2="366.6" stroke="#8fd0f4" stroke-width="2"/>
<line x1="392.7" y1="366.6" x2="410.7" y2="366.6" stroke="#8fd0f4" stroke-width="2"/>
<polygon points="364.3,347.6 370.2,330.2 394.8,330.2 400.6,347.6 394.8,365 370.2,365" fill="#3fbf8e"/>
<polygon points="370.2,330.2 377,347.6 370.2,365 364.3,347.6" fill="#36b07f" opacity="0.7"/>
<polygon points="394.8,330.2 388,347.6 394.8,365 400.6,347.6" fill="#36b07f" opacity="0.5"/>
<polygon points="377,347.6 382.5,333 388,347.6 382.5,362" fill="#2ea878" opacity="0.5"/>
<line x1="382.5" y1="333" x2="382.5" y2="362" stroke="#e07070" stroke-width="1.6" opacity="0.55"/>
<ellipse cx="363.3" cy="308.9" rx="2.9" ry="3.7" fill="url(#gRed)"/>
<ellipse cx="363.3" cy="347.6" rx="2.9" ry="3.7" fill="url(#gRed)"/>
<ellipse cx="363.3" cy="386.4" rx="2.9" ry="3.7" fill="url(#gRed)"/>
<ellipse cx="382.5" cy="308.9" rx="2.9" ry="3.7" fill="url(#gRed)"/>
<ellipse cx="382.5" cy="347.6" rx="2.9" ry="3.7" fill="url(#gRed)"/>
<ellipse cx="382.5" cy="386.4" rx="2.9" ry="3.7" fill="url(#gRed)"/>
<ellipse cx="401.7" cy="308.9" rx="2.9" ry="3.7" fill="url(#gRed)"/>
<ellipse cx="401.7" cy="347.6" rx="2.9" ry="3.7" fill="url(#gRed)"/>
<ellipse cx="401.7" cy="386.4" rx="2.9" ry="3.7" fill="url(#gRed)"/>
<ellipse cx="353.8" cy="328.6" rx="2.8" ry="3.5" fill="url(#gRed)"/>
<ellipse cx="372.9" cy="328.6" rx="2.8" ry="3.5" fill="url(#gRed)"/>
<ellipse cx="392.3" cy="328.6" rx="2.8" ry="3.5" fill="url(#gRed)"/>
<ellipse cx="411.6" cy="328.6" rx="2.8" ry="3.5" fill="url(#gRed)"/>
<ellipse cx="363.3" cy="328.6" rx="3.9" ry="4.7" fill="url(#gBlue)"/>
<ellipse cx="382.5" cy="328.6" rx="3.9" ry="4.7" fill="url(#gBlue)"/>
<ellipse cx="401.7" cy="328.6" rx="3.9" ry="4.7" fill="url(#gBlue)"/>
<ellipse cx="353.8" cy="366.6" rx="2.8" ry="3.5" fill="url(#gRed)"/>
<ellipse cx="372.9" cy="366.6" rx="2.8" ry="3.5" fill="url(#gRed)"/>
<ellipse cx="392.3" cy="366.6" rx="2.8" ry="3.5" fill="url(#gRed)"/>
<ellipse cx="411.6" cy="366.6" rx="2.8" ry="3.5" fill="url(#gRed)"/>
<ellipse cx="363.3" cy="366.6" rx="3.9" ry="4.7" fill="url(#gBlue)"/>
<ellipse cx="382.5" cy="366.6" rx="3.9" ry="4.7" fill="url(#gBlue)"/>
<ellipse cx="401.7" cy="366.6" rx="3.9" ry="4.7" fill="url(#gBlue)"/>
<line x1="335.4" y1="388.6" x2="335.4" y2="379.6" stroke="#2a2ad0" stroke-width="1.2"/>
<polygon points="335.40,377.80 336.70,379.60 334.10,379.60" fill="#2a2ad0"/>
<text x="335.6" y="377.0" font-size="8.5" font-weight="bold" fill="#111" text-anchor="middle">c</text>
<line x1="335.4" y1="388.6" x2="341.4" y2="388.6" stroke="#e02020" stroke-width="1.2"/>
<polygon points="343.20,388.60 341.40,389.90 341.40,387.30" fill="#e02020"/>
<text x="346.0" y="391.8" font-size="8.5" font-weight="bold" fill="#111" text-anchor="middle">a</text>
<line x1="480.8" y1="325.6" x2="501.4" y2="320.6" stroke="#8a8a9a" stroke-width="0.5" stroke-dasharray="1.2,0.8"/>
<line x1="501.4" y1="320.6" x2="521.5" y2="325.6" stroke="#8a8a9a" stroke-width="0.5" stroke-dasharray="1.2,0.8"/>
<line x1="480.8" y1="325.6" x2="501.4" y2="331.4" stroke="#8a8a9a" stroke-width="0.5" stroke-dasharray="1.2,0.8"/>
<line x1="501.4" y1="331.4" x2="521.5" y2="325.6" stroke="#8a8a9a" stroke-width="0.5" stroke-dasharray="1.2,0.8"/>
<line x1="480.8" y1="363.2" x2="501.4" y2="357.4" stroke="#8a8a9a" stroke-width="0.5" stroke-dasharray="1.2,0.8"/>
<line x1="501.4" y1="357.4" x2="521.5" y2="363.2" stroke="#8a8a9a" stroke-width="0.5" stroke-dasharray="1.2,0.8"/>
<line x1="480.8" y1="363.2" x2="501.4" y2="368.9" stroke="#8a8a9a" stroke-width="0.5" stroke-dasharray="1.2,0.8"/>
<line x1="501.4" y1="368.9" x2="521.5" y2="363.2" stroke="#8a8a9a" stroke-width="0.5" stroke-dasharray="1.2,0.8"/>
<line x1="480.8" y1="325.6" x2="480.8" y2="363.2" stroke="#8a8a9a" stroke-width="0.5" stroke-dasharray="1.2,0.8"/>
<line x1="521.5" y1="325.6" x2="521.5" y2="363.2" stroke="#8a8a9a" stroke-width="0.5" stroke-dasharray="1.2,0.8"/>
<line x1="480.8" y1="339" x2="521.5" y2="339" stroke="#8a8a9a" stroke-width="0.5" stroke-dasharray="1.2,0.8"/>
<line x1="480.8" y1="350.9" x2="521.5" y2="350.9" stroke="#8a8a9a" stroke-width="0.5" stroke-dasharray="1.2,0.8"/>
<line x1="501.4" y1="305.4" x2="501.4" y2="383.4" stroke="#9aa0c0" stroke-width="1.2"/>
<line x1="480.8" y1="339" x2="480.8" y2="351" stroke="#9aa0c0" stroke-width="1.2"/>
<line x1="521.5" y1="339" x2="521.5" y2="351" stroke="#9aa0c0" stroke-width="1.2"/>
<ellipse cx="501.4" cy="320.6" rx="4.4" ry="4.84" fill="url(#gMag)"/>
<ellipse cx="501.4" cy="357.4" rx="4.4" ry="4.84" fill="url(#gMag)"/>
<ellipse cx="501.4" cy="305.4" rx="2.7" ry="3.40" fill="url(#gLi)"/>
<ellipse cx="501.4" cy="383.4" rx="2.7" ry="3.40" fill="url(#gLi)"/>
<ellipse cx="501.4" cy="325.6" rx="4.7" ry="5.17" fill="url(#gTeal)"/>
<ellipse cx="501.4" cy="363.2" rx="4.7" ry="5.17" fill="url(#gTeal)"/>
<ellipse cx="480.8" cy="325.6" rx="4.8" ry="5.28" fill="url(#gMag)"/>
<ellipse cx="521.5" cy="325.6" rx="4.8" ry="5.28" fill="url(#gMag)"/>
<ellipse cx="480.8" cy="363.2" rx="4.8" ry="5.28" fill="url(#gMag)"/>
<ellipse cx="521.5" cy="363.2" rx="4.8" ry="5.28" fill="url(#gMag)"/>
<ellipse cx="480.8" cy="339" rx="2.7" ry="3.20" fill="url(#gLi)"/>
<ellipse cx="480.8" cy="350.9" rx="2.7" ry="3.20" fill="url(#gLi)"/>
<ellipse cx="521.5" cy="339" rx="2.7" ry="3.20" fill="url(#gLi)"/>
<ellipse cx="521.5" cy="350.9" rx="2.7" ry="3.20" fill="url(#gLi)"/>
<line x1="481" y1="345" x2="521" y2="345" stroke="#9aa0c0" stroke-width="1"/>
<ellipse cx="490.6" cy="341.2" rx="4.8" ry="5.28" fill="url(#gTeal)"/>
<ellipse cx="511.2" cy="341.2" rx="4.8" ry="5.28" fill="url(#gTeal)"/>
<ellipse cx="490.6" cy="346.8" rx="4.8" ry="5.28" fill="url(#gTeal)"/>
<ellipse cx="511.2" cy="346.8" rx="4.8" ry="5.28" fill="url(#gTeal)"/>
<ellipse cx="501.4" cy="345.5" rx="2.7" ry="3.20" fill="url(#gLi)"/>
<ellipse cx="501.4" cy="331.6" rx="4.6" ry="5.06" fill="url(#gMag)"/>
<ellipse cx="501.4" cy="369.0" rx="4.6" ry="5.06" fill="url(#gMag)"/>
<line x1="448.8" y1="382.6" x2="448.8" y2="374.6" stroke="#2a2ad0" stroke-width="1.2"/>
<polygon points="448.80,372.80 450.10,374.60 447.50,374.60" fill="#2a2ad0"/>
<text x="448.2" y="371.5" font-size="8.5" font-weight="bold" fill="#111" text-anchor="middle">c</text>
<text x="457.7" y="382.2" font-size="8.5" font-weight="bold" fill="#111" text-anchor="middle">b</text>
<text x="457.7" y="389.4" font-size="8.5" font-weight="bold" fill="#111" text-anchor="middle">a</text>
<circle cx="449.8" cy="383.6" r="1.2" fill="#e02020"/><circle cx="447.6" cy="382.6" r="1.1" fill="#20b040"/>
</svg></body></html>
